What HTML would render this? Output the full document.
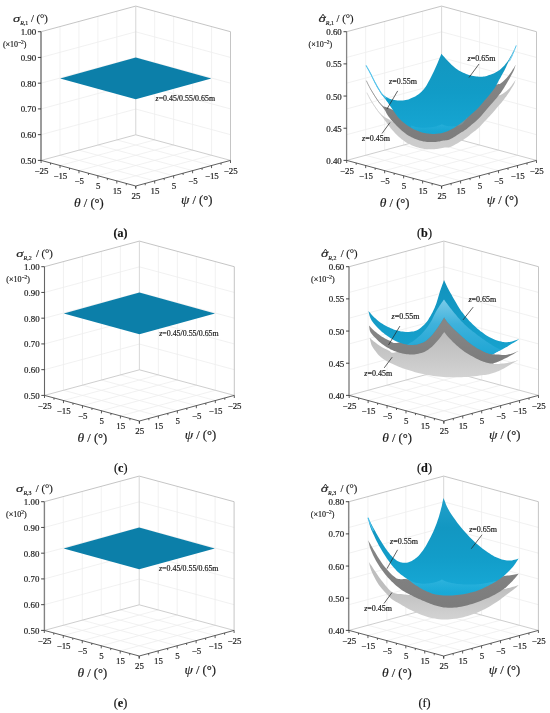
<!DOCTYPE html>
<html><head><meta charset="utf-8"><title>Figure</title><style>html,body{margin:0;padding:0;background:#fff}svg{display:block}svg text{font-family:"Liberation Serif","DejaVu Serif",serif;stroke:#1a1a1a;stroke-width:0.18px}</style></head><body>
<svg width="550" height="713" viewBox="0 0 550 713">
<rect width="550" height="713" fill="#fff"/>
<g id="plot-a">
<line x1="60.03" y1="155.28" x2="60.03" y2="26.58" stroke="#eeeeee" stroke-width="0.8" />
<line x1="154.70" y1="139.92" x2="154.70" y2="11.22" stroke="#eeeeee" stroke-width="0.8" />
<line x1="41.10" y1="134.66" x2="135.75" y2="109.06" stroke="#eeeeee" stroke-width="0.8" />
<line x1="135.75" y1="109.06" x2="230.50" y2="134.66" stroke="#eeeeee" stroke-width="0.8" />
<line x1="60.03" y1="165.52" x2="154.70" y2="139.92" stroke="#eeeeee" stroke-width="0.8" />
<line x1="60.03" y1="155.28" x2="154.70" y2="180.88" stroke="#eeeeee" stroke-width="0.8" />
<line x1="78.96" y1="150.16" x2="78.96" y2="21.46" stroke="#eeeeee" stroke-width="0.8" />
<line x1="173.65" y1="145.04" x2="173.65" y2="16.34" stroke="#eeeeee" stroke-width="0.8" />
<line x1="41.10" y1="108.92" x2="135.75" y2="83.32" stroke="#eeeeee" stroke-width="0.8" />
<line x1="135.75" y1="83.32" x2="230.50" y2="108.92" stroke="#eeeeee" stroke-width="0.8" />
<line x1="78.96" y1="170.64" x2="173.65" y2="145.04" stroke="#eeeeee" stroke-width="0.8" />
<line x1="78.96" y1="150.16" x2="173.65" y2="175.76" stroke="#eeeeee" stroke-width="0.8" />
<line x1="97.89" y1="145.04" x2="97.89" y2="16.34" stroke="#eeeeee" stroke-width="0.8" />
<line x1="192.60" y1="150.16" x2="192.60" y2="21.46" stroke="#eeeeee" stroke-width="0.8" />
<line x1="41.10" y1="83.18" x2="135.75" y2="57.58" stroke="#eeeeee" stroke-width="0.8" />
<line x1="135.75" y1="57.58" x2="230.50" y2="83.18" stroke="#eeeeee" stroke-width="0.8" />
<line x1="97.89" y1="175.76" x2="192.60" y2="150.16" stroke="#eeeeee" stroke-width="0.8" />
<line x1="97.89" y1="145.04" x2="192.60" y2="170.64" stroke="#eeeeee" stroke-width="0.8" />
<line x1="116.82" y1="139.92" x2="116.82" y2="11.22" stroke="#eeeeee" stroke-width="0.8" />
<line x1="211.55" y1="155.28" x2="211.55" y2="26.58" stroke="#eeeeee" stroke-width="0.8" />
<line x1="41.10" y1="57.44" x2="135.75" y2="31.84" stroke="#eeeeee" stroke-width="0.8" />
<line x1="135.75" y1="31.84" x2="230.50" y2="57.44" stroke="#eeeeee" stroke-width="0.8" />
<line x1="116.82" y1="180.88" x2="211.55" y2="155.28" stroke="#eeeeee" stroke-width="0.8" />
<line x1="116.82" y1="139.92" x2="211.55" y2="165.52" stroke="#eeeeee" stroke-width="0.8" />
<line x1="41.10" y1="31.70" x2="135.75" y2="6.10" stroke="#bebebe" stroke-width="0.9" />
<line x1="135.75" y1="6.10" x2="230.50" y2="31.70" stroke="#bebebe" stroke-width="0.9" />
<line x1="135.75" y1="134.80" x2="135.75" y2="6.10" stroke="#d2d2d2" stroke-width="0.9" />
<line x1="230.50" y1="160.40" x2="230.50" y2="31.70" stroke="#bebebe" stroke-width="0.9" />
<line x1="41.10" y1="160.40" x2="135.75" y2="134.80" stroke="#c8c8c8" stroke-width="0.9" />
<line x1="135.75" y1="134.80" x2="230.50" y2="160.40" stroke="#c8c8c8" stroke-width="0.9" />
<polygon points="60.15,78.38 135.75,99.28 211.35,78.38 135.75,57.48" fill="#0c7fa9"/>
<text x="155.55" y="101.28" font-size="7.9" text-anchor="start" font-weight="normal" fill="#1a1a1a" ><tspan font-style="italic">z</tspan>=0.45/0.55/0.65m</text>
<line x1="41.00" y1="160.40" x2="41.00" y2="31.70" stroke="#9c9c9c" stroke-width="2.0" />
<line x1="41.10" y1="160.40" x2="135.75" y2="186.00" stroke="#606060" stroke-width="1.0" />
<line x1="135.75" y1="186.00" x2="230.50" y2="160.40" stroke="#606060" stroke-width="1.0" />
<line x1="37.90" y1="160.40" x2="41.10" y2="160.40" stroke="#333" stroke-width="0.9" />
<text x="36.20" y="163.90" font-size="8.9" text-anchor="end" font-weight="normal" fill="#1a1a1a" >0.50</text>
<line x1="37.90" y1="134.66" x2="41.10" y2="134.66" stroke="#333" stroke-width="0.9" />
<text x="36.20" y="138.16" font-size="8.9" text-anchor="end" font-weight="normal" fill="#1a1a1a" >0.60</text>
<line x1="37.90" y1="108.92" x2="41.10" y2="108.92" stroke="#333" stroke-width="0.9" />
<text x="36.20" y="112.42" font-size="8.9" text-anchor="end" font-weight="normal" fill="#1a1a1a" >0.70</text>
<line x1="37.90" y1="83.18" x2="41.10" y2="83.18" stroke="#333" stroke-width="0.9" />
<text x="36.20" y="86.68" font-size="8.9" text-anchor="end" font-weight="normal" fill="#1a1a1a" >0.80</text>
<line x1="37.90" y1="57.44" x2="41.10" y2="57.44" stroke="#333" stroke-width="0.9" />
<text x="36.20" y="60.94" font-size="8.9" text-anchor="end" font-weight="normal" fill="#1a1a1a" >0.90</text>
<line x1="37.90" y1="31.70" x2="41.10" y2="31.70" stroke="#333" stroke-width="0.9" />
<text x="36.20" y="35.20" font-size="8.9" text-anchor="end" font-weight="normal" fill="#1a1a1a" >1.00</text>
<line x1="41.10" y1="160.40" x2="41.10" y2="163.00" stroke="#333" stroke-width="0.8" />
<text x="41.40" y="173.60" font-size="8.9" text-anchor="middle" font-weight="normal" fill="#1a1a1a" >−25</text>
<line x1="50.57" y1="162.96" x2="50.57" y2="164.76" stroke="#333" stroke-width="0.8" />
<line x1="60.03" y1="165.52" x2="60.03" y2="168.12" stroke="#333" stroke-width="0.8" />
<text x="60.33" y="178.72" font-size="8.9" text-anchor="middle" font-weight="normal" fill="#1a1a1a" >−15</text>
<line x1="69.50" y1="168.08" x2="69.50" y2="169.88" stroke="#333" stroke-width="0.8" />
<line x1="78.96" y1="170.64" x2="78.96" y2="173.24" stroke="#333" stroke-width="0.8" />
<text x="79.26" y="183.84" font-size="8.9" text-anchor="middle" font-weight="normal" fill="#1a1a1a" >−5</text>
<line x1="88.43" y1="173.20" x2="88.43" y2="175.00" stroke="#333" stroke-width="0.8" />
<line x1="97.89" y1="175.76" x2="97.89" y2="178.36" stroke="#333" stroke-width="0.8" />
<text x="98.19" y="188.96" font-size="8.9" text-anchor="middle" font-weight="normal" fill="#1a1a1a" >5</text>
<line x1="107.35" y1="178.32" x2="107.35" y2="180.12" stroke="#333" stroke-width="0.8" />
<line x1="116.82" y1="180.88" x2="116.82" y2="183.48" stroke="#333" stroke-width="0.8" />
<text x="117.12" y="194.08" font-size="8.9" text-anchor="middle" font-weight="normal" fill="#1a1a1a" >15</text>
<line x1="126.28" y1="183.44" x2="126.28" y2="185.24" stroke="#333" stroke-width="0.8" />
<line x1="135.75" y1="186.00" x2="135.75" y2="188.60" stroke="#333" stroke-width="0.8" />
<text x="136.05" y="199.20" font-size="8.9" text-anchor="middle" font-weight="normal" fill="#1a1a1a" >25</text>
<line x1="135.75" y1="186.00" x2="135.75" y2="188.60" stroke="#333" stroke-width="0.8" />
<line x1="145.23" y1="183.44" x2="145.23" y2="185.24" stroke="#333" stroke-width="0.8" />
<line x1="154.70" y1="180.88" x2="154.70" y2="183.48" stroke="#333" stroke-width="0.8" />
<text x="155.00" y="194.08" font-size="8.9" text-anchor="middle" font-weight="normal" fill="#1a1a1a" >15</text>
<line x1="164.18" y1="178.32" x2="164.18" y2="180.12" stroke="#333" stroke-width="0.8" />
<line x1="173.65" y1="175.76" x2="173.65" y2="178.36" stroke="#333" stroke-width="0.8" />
<text x="173.95" y="188.96" font-size="8.9" text-anchor="middle" font-weight="normal" fill="#1a1a1a" >5</text>
<line x1="183.12" y1="173.20" x2="183.12" y2="175.00" stroke="#333" stroke-width="0.8" />
<line x1="192.60" y1="170.64" x2="192.60" y2="173.24" stroke="#333" stroke-width="0.8" />
<text x="192.90" y="183.84" font-size="8.9" text-anchor="middle" font-weight="normal" fill="#1a1a1a" >−5</text>
<line x1="202.08" y1="168.08" x2="202.08" y2="169.88" stroke="#333" stroke-width="0.8" />
<line x1="211.55" y1="165.52" x2="211.55" y2="168.12" stroke="#333" stroke-width="0.8" />
<text x="211.85" y="178.72" font-size="8.9" text-anchor="middle" font-weight="normal" fill="#1a1a1a" >−15</text>
<line x1="221.03" y1="162.96" x2="221.03" y2="164.76" stroke="#333" stroke-width="0.8" />
<line x1="230.50" y1="160.40" x2="230.50" y2="163.00" stroke="#333" stroke-width="0.8" />
<text x="230.80" y="173.60" font-size="8.9" text-anchor="middle" font-weight="normal" fill="#1a1a1a" >−25</text>
<text x="88.93" y="206.70" font-size="12.5" text-anchor="middle" font-weight="normal" fill="#1a1a1a" ><tspan font-style="italic" font-size="13.5">θ</tspan> / (°)</text>
<text x="196.62" y="203.90" font-size="12.5" text-anchor="middle" font-weight="normal" fill="#1a1a1a" ><tspan font-style="italic" font-size="13.5">ψ</tspan> / (°)</text>
<text transform="translate(12.90 22.30) scale(1.3 1)" font-size="11.2" font-style="italic" fill="#2a2a2a" stroke="none">σ</text>
<text x="20.20" y="24.80" font-size="5.9" text-anchor="start" font-weight="normal" fill="#1a1a1a" ><tspan font-style="italic">R</tspan>,1</text>
<text x="31.00" y="22.30" font-size="10.6" text-anchor="start" font-weight="normal" fill="#1a1a1a" >/ (°)</text>
<text x="2.90" y="47.40" font-size="8.0" text-anchor="start" font-weight="normal" fill="#1a1a1a" >(×10<tspan font-size="5.4" dy="-3.1">−2</tspan><tspan dy="3.1">)</tspan></text>
<text x="120.50" y="236.50" font-size="11.9" text-anchor="middle" font-weight="bold" fill="#111" >(a)</text>
</g>
<g id="plot-b">
<line x1="365.68" y1="155.28" x2="365.68" y2="26.58" stroke="#eeeeee" stroke-width="0.8" />
<line x1="460.58" y1="139.92" x2="460.58" y2="11.22" stroke="#eeeeee" stroke-width="0.8" />
<line x1="346.70" y1="134.66" x2="441.60" y2="109.06" stroke="#eeeeee" stroke-width="0.8" />
<line x1="441.60" y1="109.06" x2="536.50" y2="134.66" stroke="#eeeeee" stroke-width="0.8" />
<line x1="365.68" y1="165.52" x2="460.58" y2="139.92" stroke="#eeeeee" stroke-width="0.8" />
<line x1="365.68" y1="155.28" x2="460.58" y2="180.88" stroke="#eeeeee" stroke-width="0.8" />
<line x1="384.66" y1="150.16" x2="384.66" y2="21.46" stroke="#eeeeee" stroke-width="0.8" />
<line x1="479.56" y1="145.04" x2="479.56" y2="16.34" stroke="#eeeeee" stroke-width="0.8" />
<line x1="346.70" y1="108.92" x2="441.60" y2="83.32" stroke="#eeeeee" stroke-width="0.8" />
<line x1="441.60" y1="83.32" x2="536.50" y2="108.92" stroke="#eeeeee" stroke-width="0.8" />
<line x1="384.66" y1="170.64" x2="479.56" y2="145.04" stroke="#eeeeee" stroke-width="0.8" />
<line x1="384.66" y1="150.16" x2="479.56" y2="175.76" stroke="#eeeeee" stroke-width="0.8" />
<line x1="403.64" y1="145.04" x2="403.64" y2="16.34" stroke="#eeeeee" stroke-width="0.8" />
<line x1="498.54" y1="150.16" x2="498.54" y2="21.46" stroke="#eeeeee" stroke-width="0.8" />
<line x1="346.70" y1="83.18" x2="441.60" y2="57.58" stroke="#eeeeee" stroke-width="0.8" />
<line x1="441.60" y1="57.58" x2="536.50" y2="83.18" stroke="#eeeeee" stroke-width="0.8" />
<line x1="403.64" y1="175.76" x2="498.54" y2="150.16" stroke="#eeeeee" stroke-width="0.8" />
<line x1="403.64" y1="145.04" x2="498.54" y2="170.64" stroke="#eeeeee" stroke-width="0.8" />
<line x1="422.62" y1="139.92" x2="422.62" y2="11.22" stroke="#eeeeee" stroke-width="0.8" />
<line x1="517.52" y1="155.28" x2="517.52" y2="26.58" stroke="#eeeeee" stroke-width="0.8" />
<line x1="346.70" y1="57.44" x2="441.60" y2="31.84" stroke="#eeeeee" stroke-width="0.8" />
<line x1="441.60" y1="31.84" x2="536.50" y2="57.44" stroke="#eeeeee" stroke-width="0.8" />
<line x1="422.62" y1="180.88" x2="517.52" y2="155.28" stroke="#eeeeee" stroke-width="0.8" />
<line x1="422.62" y1="139.92" x2="517.52" y2="165.52" stroke="#eeeeee" stroke-width="0.8" />
<line x1="346.70" y1="31.70" x2="441.60" y2="6.10" stroke="#bebebe" stroke-width="0.9" />
<line x1="441.60" y1="6.10" x2="536.50" y2="31.70" stroke="#bebebe" stroke-width="0.9" />
<line x1="441.60" y1="134.80" x2="441.60" y2="6.10" stroke="#d2d2d2" stroke-width="0.9" />
<line x1="536.50" y1="160.40" x2="536.50" y2="31.70" stroke="#bebebe" stroke-width="0.9" />
<line x1="346.70" y1="160.40" x2="441.60" y2="134.80" stroke="#c8c8c8" stroke-width="0.9" />
<line x1="441.60" y1="134.80" x2="536.50" y2="160.40" stroke="#c8c8c8" stroke-width="0.9" />
<defs>
<linearGradient id="gbb" gradientUnits="userSpaceOnUse" x1="0" y1="50" x2="0" y2="135"><stop offset="0" stop-color="#1496bf"/><stop offset="0.5" stop-color="#119cc7"/><stop offset="1" stop-color="#17a7d4"/></linearGradient>
<linearGradient id="glb" gradientUnits="userSpaceOnUse" x1="0" y1="69.7" x2="0" y2="149.3"><stop offset="0" stop-color="#c2c2c2"/><stop offset="1" stop-color="#cdcdcd"/></linearGradient>
<linearGradient id="gdb" gradientUnits="userSpaceOnUse" x1="0" y1="64.5" x2="0" y2="142"><stop offset="0" stop-color="#868686"/><stop offset="1" stop-color="#7c7c7c"/></linearGradient>
</defs>
<polygon points="367.0,93.0 367.8,94.4 368.6,95.9 369.3,97.3 370.1,98.7 370.9,100.1 371.7,101.4 372.5,102.7 373.3,104.0 374.1,105.2 374.9,106.4 375.7,107.6 376.5,108.7 377.3,109.8 378.1,110.9 378.9,111.9 379.7,112.8 380.4,113.6 381.2,114.4 382.1,115.2 383.1,116.0 384.2,116.8 385.4,117.5 386.7,118.2 388.2,119.0 390.0,120.0 392.1,121.2 394.6,122.6 397.2,124.1 400.0,125.6 403.0,127.0 406.1,128.5 409.4,130.0 412.8,131.5 416.3,132.9 420.0,134.0 423.8,135.0 427.8,135.9 431.9,136.6 436.0,137.0 440.0,137.0 444.0,136.6 448.0,135.8 452.0,134.7 456.0,133.1 460.0,131.0 464.1,128.1 468.2,124.6 472.2,120.6 476.2,116.7 480.0,113.0 483.8,109.4 487.5,105.7 491.1,102.2 494.2,99.2 496.7,96.9 498.3,95.6 499.1,95.2 499.5,95.2 499.9,95.2 500.5,95.0 501.4,94.5 502.4,93.9 503.5,93.3 504.6,92.6 505.6,91.8 506.6,90.9 507.6,90.0 508.7,89.0 509.7,87.9 510.7,86.7 511.7,85.4 512.7,84.0 513.8,82.6 514.8,81.1 515.8,79.7 515.8,79.7 515.3,80.8 514.9,81.9 514.5,83.0 514.0,84.2 513.3,85.5 512.4,87.0 511.4,88.6 510.4,90.3 509.3,91.9 508.2,93.5 507.2,95.0 506.2,96.4 505.1,97.8 504.1,99.2 503.1,100.5 502.1,101.7 501.2,102.9 500.2,104.1 499.1,105.3 498.0,106.6 496.7,108.1 495.3,109.8 493.8,111.5 492.3,113.2 490.9,114.8 489.6,116.3 488.3,117.6 487.0,119.0 485.8,120.3 484.5,121.6 483.2,123.0 482.0,124.3 480.7,125.7 479.5,127.0 478.2,128.2 476.9,129.3 475.6,130.4 474.4,131.3 473.1,132.3 471.8,133.3 470.5,134.3 469.3,135.4 468.0,136.4 466.7,137.4 465.5,138.3 464.3,139.1 463.1,139.9 461.8,140.6 460.7,141.3 459.5,142.0 458.4,142.7 457.2,143.4 456.1,144.0 455.1,144.6 454.0,145.2 453.0,145.7 452.0,146.2 451.0,146.7 450.0,147.1 449.0,147.4 448.0,147.6 446.9,147.6 445.9,147.6 444.8,147.6 443.6,147.7 442.3,147.9 441.0,148.2 439.7,148.5 438.3,148.8 437.0,149.0 435.8,149.1 434.5,149.2 433.3,149.3 432.1,149.3 430.9,149.3 429.6,149.3 428.4,149.3 427.1,149.2 425.8,149.1 424.5,149.0 423.2,148.8 422.0,148.6 420.7,148.3 419.5,148.0 418.2,147.6 416.9,147.2 415.5,146.8 414.1,146.3 412.8,145.8 411.5,145.2 410.3,144.6 409.1,144.0 407.9,143.4 406.7,142.7 405.5,141.9 404.2,141.0 402.9,140.1 401.6,139.2 400.3,138.1 399.0,137.0 397.7,135.8 396.4,134.5 395.1,133.2 393.9,131.8 392.7,130.5 391.6,129.2 390.5,127.9 389.5,126.6 388.5,125.3 387.5,124.0 386.5,122.6 385.5,121.3 384.5,119.9 383.6,118.5 382.7,117.3 381.8,116.2 381.0,115.2 380.3,114.3 379.5,113.3 378.7,112.3 377.9,111.2 377.1,110.1 376.3,109.0 375.5,107.9 374.7,106.7 373.9,105.5 373.1,104.3 372.3,103.0 371.5,101.7 370.7,100.4 369.9,99.0 369.2,97.5 368.5,96.0 367.7,94.5 367.0,93.0" fill="url(#glb)" />
<polygon points="366.5,81.0 367.3,82.5 368.0,84.0 368.8,85.4 369.5,86.9 370.3,88.3 371.1,89.7 371.9,91.0 372.7,92.3 373.5,93.6 374.3,94.9 375.1,96.2 375.9,97.4 376.7,98.6 377.5,99.8 378.3,100.9 379.1,102.0 379.9,103.1 380.8,104.1 381.7,105.0 382.6,105.8 383.6,106.4 384.7,106.8 385.8,107.1 386.9,107.4 388.0,107.8 388.9,108.1 389.7,108.4 390.5,108.8 391.4,109.2 392.7,109.8 394.3,110.6 396.1,111.7 398.1,112.8 400.4,113.9 403.0,115.0 405.9,116.1 409.2,117.3 412.7,118.4 416.3,119.3 420.0,120.0 423.8,120.4 427.8,120.7 431.9,120.8 436.0,120.6 440.0,120.0 444.0,119.0 448.0,117.7 452.0,116.0 456.0,114.1 460.0,112.0 464.1,109.6 468.2,106.8 472.3,103.8 476.3,100.8 480.0,98.0 483.6,95.2 487.0,92.4 490.3,89.7 493.1,87.3 495.5,85.5 497.2,84.5 498.3,84.1 499.0,84.0 499.7,83.9 500.5,83.5 501.5,82.8 502.5,82.0 503.6,81.1 504.6,80.1 505.6,79.1 506.6,78.0 507.6,76.8 508.7,75.5 509.7,74.1 510.7,72.7 511.7,71.2 512.7,69.5 513.8,67.9 514.8,66.2 515.8,64.5 515.8,64.5 515.3,65.9 514.9,67.2 514.5,68.5 514.0,70.0 513.3,71.5 512.4,73.2 511.4,75.1 510.4,77.0 509.3,79.0 508.2,80.8 507.2,82.6 506.2,84.3 505.1,86.0 504.1,87.7 503.1,89.3 502.1,90.8 501.2,92.2 500.2,93.5 499.1,94.8 498.0,96.3 496.7,97.9 495.3,99.5 493.8,101.2 492.3,102.9 490.9,104.5 489.6,106.1 488.3,107.6 487.0,109.1 485.8,110.5 484.5,112.0 483.2,113.5 482.0,114.9 480.7,116.4 479.5,117.8 478.2,119.1 476.9,120.3 475.6,121.4 474.4,122.5 473.1,123.5 471.8,124.6 470.5,125.7 469.3,126.8 468.0,127.8 466.7,128.9 465.5,129.8 464.3,130.6 463.1,131.4 461.8,132.1 460.7,132.8 459.5,133.5 458.4,134.2 457.2,135.0 456.1,135.7 455.1,136.4 454.0,137.1 453.0,137.7 452.0,138.3 451.0,138.8 450.0,139.3 449.0,139.7 448.0,140.0 446.9,140.2 445.9,140.3 444.8,140.4 443.6,140.6 442.3,140.8 441.0,141.1 439.7,141.4 438.3,141.6 437.0,141.8 435.8,141.9 434.5,142.0 433.3,142.0 432.1,142.0 430.9,142.0 429.6,142.0 428.4,141.9 427.1,141.9 425.8,141.8 424.5,141.6 423.2,141.4 422.0,141.1 420.7,140.8 419.5,140.4 418.2,140.0 416.9,139.5 415.5,139.0 414.1,138.4 412.8,137.8 411.5,137.2 410.3,136.6 409.1,135.9 407.9,135.2 406.7,134.5 405.5,133.6 404.2,132.6 402.9,131.5 401.6,130.4 400.3,129.2 399.0,128.0 397.7,126.7 396.4,125.4 395.1,124.0 393.8,122.7 392.7,121.5 391.7,120.4 390.8,119.5 390.1,118.5 389.3,117.6 388.5,116.5 387.7,115.2 386.9,113.9 386.1,112.5 385.4,111.1 384.7,110.0 384.1,109.1 383.7,108.5 383.3,107.9 382.8,107.3 382.2,106.5 381.5,105.6 380.7,104.6 379.8,103.5 378.9,102.4 378.1,101.3 377.3,100.1 376.5,98.9 375.7,97.7 374.9,96.5 374.1,95.2 373.3,93.9 372.5,92.6 371.7,91.3 370.9,90.0 370.1,88.6 369.4,87.1 368.6,85.6 367.9,84.1 367.2,82.5 366.5,81.0" fill="url(#gdb)" />
<polygon points="366.2,65.8 367.0,67.2 367.9,68.6 368.7,69.9 369.5,71.4 370.3,72.8 371.1,74.3 371.8,75.9 372.6,77.4 373.3,79.0 374.1,80.5 374.8,81.9 375.6,83.4 376.3,84.7 377.1,86.1 377.9,87.5 378.8,88.9 379.6,90.4 380.6,91.8 381.5,93.1 382.6,94.3 383.8,95.3 385.0,96.2 386.3,97.0 387.7,97.8 389.0,98.4 390.4,98.9 391.8,99.4 393.2,99.8 394.6,100.1 396.0,100.3 397.4,100.5 398.8,100.6 400.2,100.6 401.6,100.6 403.0,100.5 404.4,100.3 405.7,100.1 407.1,99.8 408.5,99.4 410.0,98.8 411.6,98.1 413.4,97.3 415.2,96.4 417.0,95.3 418.6,94.2 420.1,93.0 421.5,91.7 422.9,90.3 424.2,88.8 425.5,87.0 426.8,85.0 428.1,82.6 429.4,80.2 430.7,77.8 431.8,75.5 432.8,73.4 433.8,71.5 434.7,69.6 435.6,67.6 436.5,65.5 437.5,63.3 438.4,60.9 439.4,58.6 440.4,56.2 441.4,53.8 442.8,55.4 444.3,57.1 445.7,58.7 447.2,60.3 448.6,61.8 450.1,63.2 451.5,64.7 453.0,66.0 454.4,67.2 455.9,68.4 457.4,69.4 458.8,70.4 460.3,71.2 461.7,72.0 463.2,72.7 464.7,73.3 466.1,73.9 467.6,74.4 469.0,74.9 470.5,75.3 472.0,75.7 473.5,76.0 474.9,76.2 476.4,76.4 477.7,76.6 479.0,76.7 480.1,76.8 481.3,76.8 482.4,76.7 483.5,76.6 484.6,76.4 485.7,76.2 486.8,75.9 487.9,75.5 489.1,75.1 490.3,74.7 491.6,74.2 492.9,73.7 494.2,73.2 495.5,72.5 496.8,71.8 498.0,71.0 499.3,70.2 500.5,69.2 501.8,68.1 503.1,66.8 504.4,65.4 505.7,63.8 507.0,62.2 508.2,60.5 509.3,58.7 510.4,56.8 511.5,54.9 512.4,53.1 513.3,51.5 514.0,50.1 514.6,49.0 515.1,47.9 515.6,46.9 516.1,45.8 516.1,45.8 515.4,47.4 514.7,49.1 514.0,50.7 513.3,52.3 512.5,54.0 511.7,55.7 510.8,57.4 509.9,59.1 509.0,60.8 508.2,62.5 507.4,64.1 506.7,65.6 506.0,67.2 505.2,68.7 504.4,70.4 503.4,72.2 502.4,74.1 501.3,76.0 500.3,77.9 499.3,79.6 498.5,81.1 497.8,82.6 497.1,83.9 496.4,85.3 495.5,86.8 494.4,88.5 493.0,90.3 491.7,92.1 490.3,93.8 489.1,95.3 488.1,96.5 487.2,97.6 486.4,98.5 485.5,99.5 484.5,100.6 483.4,102.0 482.1,103.4 480.8,105.0 479.5,106.5 478.2,107.9 476.9,109.2 475.6,110.4 474.4,111.5 473.1,112.7 471.8,113.8 470.5,115.0 469.3,116.1 468.0,117.3 466.7,118.4 465.5,119.5 464.3,120.5 463.1,121.5 461.8,122.4 460.7,123.3 459.5,124.2 458.4,125.0 457.2,125.8 456.1,126.6 455.1,127.3 454.0,127.9 453.0,128.5 452.0,129.0 451.0,129.5 450.0,129.9 449.0,130.4 448.0,130.9 446.9,131.4 445.9,131.8 444.8,132.2 443.6,132.6 442.3,132.9 441.0,133.2 439.7,133.4 438.3,133.6 437.0,133.7 435.8,133.8 434.5,133.9 433.3,133.9 432.1,133.9 430.9,133.8 429.6,133.7 428.4,133.6 427.1,133.4 425.8,133.2 424.5,133.0 423.2,132.7 422.0,132.4 420.7,132.0 419.5,131.6 418.2,131.1 416.9,130.6 415.5,130.0 414.1,129.4 412.8,128.7 411.5,128.0 410.3,127.3 409.1,126.6 407.9,125.8 406.7,125.0 405.5,124.1 404.2,123.1 402.9,122.0 401.5,120.8 400.2,119.6 399.0,118.3 397.8,116.9 396.6,115.3 395.5,113.7 394.5,112.3 393.6,111.0 392.9,110.0 392.4,109.3 391.9,108.6 391.5,108.0 391.0,107.3 390.5,106.5 390.0,105.7 389.5,105.0 388.9,104.2 388.4,103.4 387.9,102.6 387.3,101.9 386.8,101.2 386.2,100.4 385.6,99.6 385.0,98.8 384.3,98.0 383.7,97.2 383.0,96.3 382.2,95.2 381.3,93.9 380.4,92.4 379.4,90.9 378.5,89.3 377.6,87.8 376.8,86.4 376.1,85.0 375.3,83.6 374.6,82.2 373.9,80.7 373.1,79.2 372.4,77.6 371.6,76.1 370.9,74.5 370.1,73.0 369.3,71.5 368.5,70.1 367.8,68.7 367.0,67.2 366.2,65.8" fill="url(#gbb)" />
<linearGradient id="grb" gradientUnits="userSpaceOnUse" x1="0" y1="123" x2="0" y2="132"><stop offset="0" stop-color="#5fd0f4" stop-opacity="0.25"/><stop offset="1" stop-color="#5fd0f4" stop-opacity="0"/></linearGradient>
<polygon points="411.0,125.6 412.6,126.0 414.2,126.5 415.7,126.9 417.3,127.3 419.0,127.6 420.8,127.7 422.6,127.8 424.4,127.8 426.2,127.7 428.0,127.6 429.7,127.5 431.4,127.2 433.0,127.0 434.5,126.7 436.0,126.4 437.3,126.0 438.5,125.6 439.7,125.2 440.8,124.7 442.0,124.3 443.0,124.7 443.9,125.1 444.8,125.4 445.8,125.8 447.0,126.0 448.4,126.2 450.0,126.3 451.7,126.4 453.4,126.3 455.0,126.2 456.5,126.0 457.9,125.8 459.4,125.5 460.7,125.0 462.0,124.2 463.2,123.0 464.3,121.5 465.4,119.9 466.4,118.1 467.5,116.5 466.7,118.4 465.5,119.5 464.3,120.5 463.1,121.5 461.8,122.4 460.7,123.3 459.5,124.2 458.4,125.0 457.2,125.8 456.1,126.6 455.1,127.3 454.0,127.9 453.0,128.5 452.0,129.0 451.0,129.5 450.0,129.9 449.0,130.4 448.0,130.9 446.9,131.4 445.9,131.8 444.8,132.2 443.6,132.6 442.3,132.9 441.0,133.2 439.7,133.4 438.3,133.6 437.0,133.7 435.8,133.8 434.5,133.9 433.3,133.9 432.1,133.9 430.9,133.8 429.6,133.7 428.4,133.6 427.1,133.4 425.8,133.2 424.5,133.0 423.2,132.7 422.0,132.4 420.7,132.0 419.5,131.6 418.2,131.1 416.9,130.6 415.5,130.0 414.1,129.4 412.8,128.7 411.5,128.0" fill="url(#grb)" />
<polyline points="366.2,65.8 367.2,67.6 368.2,69.3 369.2,71.1 370.2,72.9 371.2,74.8 372.1,76.8 373.1,78.7 374.0,80.6 374.9,82.4 375.9,84.1 376.8,85.9 377.8,87.6 378.9,89.4 380.1,91.3 381.2,93.1 382.3,94.6 383.3,95.7 384.2,96.5 385.1,97.2 386.0,98.0" fill="none" stroke="#55c4ec" stroke-width="1.1" stroke-linecap="round"/>
<polyline points="516.1,45.8 515.7,47.0 515.2,48.1 514.8,49.3 514.3,50.5 513.8,51.8 513.2,53.2 512.6,54.6 512.0,56.0 511.4,57.3 510.8,58.5 510.1,59.8 509.5,61.0" fill="none" stroke="#55c4ec" stroke-width="1.0" stroke-linecap="round"/>
<polyline points="366.5,81.0 367.4,82.9 368.3,84.8 369.3,86.6 370.2,88.4 371.2,90.1 372.2,91.8 373.2,93.4 374.2,95.0 375.2,96.6 376.2,98.2 377.2,99.7 378.2,101.1 379.2,102.4 380.3,103.7 381.3,104.9 382.4,106.1" fill="none" stroke="#8a8a8a" stroke-width="0.7" stroke-linecap="round"/>
<polyline points="367.0,93.0 367.9,94.8 368.9,96.7 369.8,98.5 370.8,100.2 371.8,101.9 372.8,103.5 373.8,105.0 374.8,106.5 375.8,108.0 376.8,109.4 377.8,110.8 378.8,112.1 379.8,113.3 380.8,114.3 381.9,115.4 382.9,116.4" fill="none" stroke="#cccccc" stroke-width="0.7" stroke-linecap="round"/>
<line x1="479.00" y1="64.00" x2="469.00" y2="77.50" stroke="#222" stroke-width="0.7" />
<text x="467.50" y="61.30" font-size="8.0" text-anchor="start" font-weight="normal" fill="#1a1a1a" ><tspan font-style="italic">z</tspan>=0.65m</text>
<line x1="397.70" y1="90.90" x2="386.90" y2="109.10" stroke="#222" stroke-width="0.7" />
<text x="389.00" y="84.30" font-size="8.0" text-anchor="start" font-weight="normal" fill="#1a1a1a" ><tspan font-style="italic">z</tspan>=0.55m</text>
<line x1="390.00" y1="122.50" x2="382.00" y2="133.50" stroke="#222" stroke-width="0.7" />
<text x="362.00" y="141.30" font-size="8.0" text-anchor="start" font-weight="normal" fill="#1a1a1a" ><tspan font-style="italic">z</tspan>=0.45m</text>
<line x1="346.60" y1="160.40" x2="346.60" y2="31.70" stroke="#858585" stroke-width="1.3" />
<line x1="346.70" y1="160.40" x2="441.60" y2="186.00" stroke="#606060" stroke-width="1.0" />
<line x1="441.60" y1="186.00" x2="536.50" y2="160.40" stroke="#606060" stroke-width="1.0" />
<line x1="343.50" y1="160.40" x2="346.70" y2="160.40" stroke="#333" stroke-width="0.9" />
<text x="341.80" y="163.90" font-size="8.9" text-anchor="end" font-weight="normal" fill="#1a1a1a" >0.40</text>
<line x1="343.50" y1="128.22" x2="346.70" y2="128.22" stroke="#333" stroke-width="0.9" />
<text x="341.80" y="131.72" font-size="8.9" text-anchor="end" font-weight="normal" fill="#1a1a1a" >0.45</text>
<line x1="343.50" y1="96.05" x2="346.70" y2="96.05" stroke="#333" stroke-width="0.9" />
<text x="341.80" y="99.55" font-size="8.9" text-anchor="end" font-weight="normal" fill="#1a1a1a" >0.50</text>
<line x1="343.50" y1="63.88" x2="346.70" y2="63.88" stroke="#333" stroke-width="0.9" />
<text x="341.80" y="67.38" font-size="8.9" text-anchor="end" font-weight="normal" fill="#1a1a1a" >0.55</text>
<line x1="343.50" y1="31.70" x2="346.70" y2="31.70" stroke="#333" stroke-width="0.9" />
<text x="341.80" y="35.20" font-size="8.9" text-anchor="end" font-weight="normal" fill="#1a1a1a" >0.60</text>
<line x1="346.70" y1="160.40" x2="346.70" y2="163.00" stroke="#333" stroke-width="0.8" />
<text x="347.00" y="173.60" font-size="8.9" text-anchor="middle" font-weight="normal" fill="#1a1a1a" >−25</text>
<line x1="356.19" y1="162.96" x2="356.19" y2="164.76" stroke="#333" stroke-width="0.8" />
<line x1="365.68" y1="165.52" x2="365.68" y2="168.12" stroke="#333" stroke-width="0.8" />
<text x="365.98" y="178.72" font-size="8.9" text-anchor="middle" font-weight="normal" fill="#1a1a1a" >−15</text>
<line x1="375.17" y1="168.08" x2="375.17" y2="169.88" stroke="#333" stroke-width="0.8" />
<line x1="384.66" y1="170.64" x2="384.66" y2="173.24" stroke="#333" stroke-width="0.8" />
<text x="384.96" y="183.84" font-size="8.9" text-anchor="middle" font-weight="normal" fill="#1a1a1a" >−5</text>
<line x1="394.15" y1="173.20" x2="394.15" y2="175.00" stroke="#333" stroke-width="0.8" />
<line x1="403.64" y1="175.76" x2="403.64" y2="178.36" stroke="#333" stroke-width="0.8" />
<text x="403.94" y="188.96" font-size="8.9" text-anchor="middle" font-weight="normal" fill="#1a1a1a" >5</text>
<line x1="413.13" y1="178.32" x2="413.13" y2="180.12" stroke="#333" stroke-width="0.8" />
<line x1="422.62" y1="180.88" x2="422.62" y2="183.48" stroke="#333" stroke-width="0.8" />
<text x="422.92" y="194.08" font-size="8.9" text-anchor="middle" font-weight="normal" fill="#1a1a1a" >15</text>
<line x1="432.11" y1="183.44" x2="432.11" y2="185.24" stroke="#333" stroke-width="0.8" />
<line x1="441.60" y1="186.00" x2="441.60" y2="188.60" stroke="#333" stroke-width="0.8" />
<text x="441.90" y="199.20" font-size="8.9" text-anchor="middle" font-weight="normal" fill="#1a1a1a" >25</text>
<line x1="441.60" y1="186.00" x2="441.60" y2="188.60" stroke="#333" stroke-width="0.8" />
<line x1="451.09" y1="183.44" x2="451.09" y2="185.24" stroke="#333" stroke-width="0.8" />
<line x1="460.58" y1="180.88" x2="460.58" y2="183.48" stroke="#333" stroke-width="0.8" />
<text x="460.88" y="194.08" font-size="8.9" text-anchor="middle" font-weight="normal" fill="#1a1a1a" >15</text>
<line x1="470.07" y1="178.32" x2="470.07" y2="180.12" stroke="#333" stroke-width="0.8" />
<line x1="479.56" y1="175.76" x2="479.56" y2="178.36" stroke="#333" stroke-width="0.8" />
<text x="479.86" y="188.96" font-size="8.9" text-anchor="middle" font-weight="normal" fill="#1a1a1a" >5</text>
<line x1="489.05" y1="173.20" x2="489.05" y2="175.00" stroke="#333" stroke-width="0.8" />
<line x1="498.54" y1="170.64" x2="498.54" y2="173.24" stroke="#333" stroke-width="0.8" />
<text x="498.84" y="183.84" font-size="8.9" text-anchor="middle" font-weight="normal" fill="#1a1a1a" >−5</text>
<line x1="508.03" y1="168.08" x2="508.03" y2="169.88" stroke="#333" stroke-width="0.8" />
<line x1="517.52" y1="165.52" x2="517.52" y2="168.12" stroke="#333" stroke-width="0.8" />
<text x="517.82" y="178.72" font-size="8.9" text-anchor="middle" font-weight="normal" fill="#1a1a1a" >−15</text>
<line x1="527.01" y1="162.96" x2="527.01" y2="164.76" stroke="#333" stroke-width="0.8" />
<line x1="536.50" y1="160.40" x2="536.50" y2="163.00" stroke="#333" stroke-width="0.8" />
<text x="536.80" y="173.60" font-size="8.9" text-anchor="middle" font-weight="normal" fill="#1a1a1a" >−25</text>
<text x="394.65" y="206.70" font-size="12.5" text-anchor="middle" font-weight="normal" fill="#1a1a1a" ><tspan font-style="italic" font-size="13.5">θ</tspan> / (°)</text>
<text x="502.55" y="203.90" font-size="12.5" text-anchor="middle" font-weight="normal" fill="#1a1a1a" ><tspan font-style="italic" font-size="13.5">ψ</tspan> / (°)</text>
<text transform="translate(318.50 22.30) scale(1.3 1)" font-size="11.2" font-style="italic" fill="#2a2a2a" stroke="none">σ</text>
<text transform="translate(323.10 19.70) scale(1.5 0.85)" font-size="8.5" text-anchor="middle" fill="#2a2a2a" stroke="none">^</text>
<text x="325.80" y="24.80" font-size="5.9" text-anchor="start" font-weight="normal" fill="#1a1a1a" ><tspan font-style="italic">R</tspan>,1</text>
<text x="336.60" y="22.30" font-size="10.6" text-anchor="start" font-weight="normal" fill="#1a1a1a" >/ (°)</text>
<text x="308.50" y="47.40" font-size="8.0" text-anchor="start" font-weight="normal" fill="#1a1a1a" >(×10<tspan font-size="5.4" dy="-3.1">−2</tspan><tspan dy="3.1">)</tspan></text>
<text x="424.50" y="237.00" font-size="12.2" text-anchor="middle" font-weight="normal" fill="#111" >(<tspan font-weight="bold">b</tspan>)</text>
</g>
<g id="plot-c">
<line x1="63.48" y1="390.28" x2="63.48" y2="261.58" stroke="#eeeeee" stroke-width="0.8" />
<line x1="158.38" y1="374.92" x2="158.38" y2="246.22" stroke="#eeeeee" stroke-width="0.8" />
<line x1="44.50" y1="369.66" x2="139.40" y2="344.06" stroke="#eeeeee" stroke-width="0.8" />
<line x1="139.40" y1="344.06" x2="234.30" y2="369.66" stroke="#eeeeee" stroke-width="0.8" />
<line x1="63.48" y1="400.52" x2="158.38" y2="374.92" stroke="#eeeeee" stroke-width="0.8" />
<line x1="63.48" y1="390.28" x2="158.38" y2="415.88" stroke="#eeeeee" stroke-width="0.8" />
<line x1="82.46" y1="385.16" x2="82.46" y2="256.46" stroke="#eeeeee" stroke-width="0.8" />
<line x1="177.36" y1="380.04" x2="177.36" y2="251.34" stroke="#eeeeee" stroke-width="0.8" />
<line x1="44.50" y1="343.92" x2="139.40" y2="318.32" stroke="#eeeeee" stroke-width="0.8" />
<line x1="139.40" y1="318.32" x2="234.30" y2="343.92" stroke="#eeeeee" stroke-width="0.8" />
<line x1="82.46" y1="405.64" x2="177.36" y2="380.04" stroke="#eeeeee" stroke-width="0.8" />
<line x1="82.46" y1="385.16" x2="177.36" y2="410.76" stroke="#eeeeee" stroke-width="0.8" />
<line x1="101.44" y1="380.04" x2="101.44" y2="251.34" stroke="#eeeeee" stroke-width="0.8" />
<line x1="196.34" y1="385.16" x2="196.34" y2="256.46" stroke="#eeeeee" stroke-width="0.8" />
<line x1="44.50" y1="318.18" x2="139.40" y2="292.58" stroke="#eeeeee" stroke-width="0.8" />
<line x1="139.40" y1="292.58" x2="234.30" y2="318.18" stroke="#eeeeee" stroke-width="0.8" />
<line x1="101.44" y1="410.76" x2="196.34" y2="385.16" stroke="#eeeeee" stroke-width="0.8" />
<line x1="101.44" y1="380.04" x2="196.34" y2="405.64" stroke="#eeeeee" stroke-width="0.8" />
<line x1="120.42" y1="374.92" x2="120.42" y2="246.22" stroke="#eeeeee" stroke-width="0.8" />
<line x1="215.32" y1="390.28" x2="215.32" y2="261.58" stroke="#eeeeee" stroke-width="0.8" />
<line x1="44.50" y1="292.44" x2="139.40" y2="266.84" stroke="#eeeeee" stroke-width="0.8" />
<line x1="139.40" y1="266.84" x2="234.30" y2="292.44" stroke="#eeeeee" stroke-width="0.8" />
<line x1="120.42" y1="415.88" x2="215.32" y2="390.28" stroke="#eeeeee" stroke-width="0.8" />
<line x1="120.42" y1="374.92" x2="215.32" y2="400.52" stroke="#eeeeee" stroke-width="0.8" />
<line x1="44.50" y1="266.70" x2="139.40" y2="241.10" stroke="#bebebe" stroke-width="0.9" />
<line x1="139.40" y1="241.10" x2="234.30" y2="266.70" stroke="#bebebe" stroke-width="0.9" />
<line x1="139.40" y1="369.80" x2="139.40" y2="241.10" stroke="#d2d2d2" stroke-width="0.9" />
<line x1="234.30" y1="395.40" x2="234.30" y2="266.70" stroke="#bebebe" stroke-width="0.9" />
<line x1="44.50" y1="395.40" x2="139.40" y2="369.80" stroke="#c8c8c8" stroke-width="0.9" />
<line x1="139.40" y1="369.80" x2="234.30" y2="395.40" stroke="#c8c8c8" stroke-width="0.9" />
<polygon points="63.80,313.38 139.40,334.28 215.00,313.38 139.40,292.48" fill="#0c7fa9"/>
<text x="159.20" y="336.28" font-size="7.9" text-anchor="start" font-weight="normal" fill="#1a1a1a" ><tspan font-style="italic">z</tspan>=0.45/0.55/0.65m</text>
<line x1="44.50" y1="395.40" x2="44.50" y2="266.70" stroke="#666" stroke-width="1.1" />
<line x1="44.50" y1="395.40" x2="139.40" y2="421.00" stroke="#606060" stroke-width="1.0" />
<line x1="139.40" y1="421.00" x2="234.30" y2="395.40" stroke="#606060" stroke-width="1.0" />
<line x1="41.30" y1="395.40" x2="44.50" y2="395.40" stroke="#333" stroke-width="0.9" />
<text x="39.60" y="398.90" font-size="8.9" text-anchor="end" font-weight="normal" fill="#1a1a1a" >0.50</text>
<line x1="41.30" y1="369.66" x2="44.50" y2="369.66" stroke="#333" stroke-width="0.9" />
<text x="39.60" y="373.16" font-size="8.9" text-anchor="end" font-weight="normal" fill="#1a1a1a" >0.60</text>
<line x1="41.30" y1="343.92" x2="44.50" y2="343.92" stroke="#333" stroke-width="0.9" />
<text x="39.60" y="347.42" font-size="8.9" text-anchor="end" font-weight="normal" fill="#1a1a1a" >0.70</text>
<line x1="41.30" y1="318.18" x2="44.50" y2="318.18" stroke="#333" stroke-width="0.9" />
<text x="39.60" y="321.68" font-size="8.9" text-anchor="end" font-weight="normal" fill="#1a1a1a" >0.80</text>
<line x1="41.30" y1="292.44" x2="44.50" y2="292.44" stroke="#333" stroke-width="0.9" />
<text x="39.60" y="295.94" font-size="8.9" text-anchor="end" font-weight="normal" fill="#1a1a1a" >0.90</text>
<line x1="41.30" y1="266.70" x2="44.50" y2="266.70" stroke="#333" stroke-width="0.9" />
<text x="39.60" y="270.20" font-size="8.9" text-anchor="end" font-weight="normal" fill="#1a1a1a" >1.00</text>
<line x1="44.50" y1="395.40" x2="44.50" y2="398.00" stroke="#333" stroke-width="0.8" />
<text x="44.80" y="408.60" font-size="8.9" text-anchor="middle" font-weight="normal" fill="#1a1a1a" >−25</text>
<line x1="53.99" y1="397.96" x2="53.99" y2="399.76" stroke="#333" stroke-width="0.8" />
<line x1="63.48" y1="400.52" x2="63.48" y2="403.12" stroke="#333" stroke-width="0.8" />
<text x="63.78" y="413.72" font-size="8.9" text-anchor="middle" font-weight="normal" fill="#1a1a1a" >−15</text>
<line x1="72.97" y1="403.08" x2="72.97" y2="404.88" stroke="#333" stroke-width="0.8" />
<line x1="82.46" y1="405.64" x2="82.46" y2="408.24" stroke="#333" stroke-width="0.8" />
<text x="82.76" y="418.84" font-size="8.9" text-anchor="middle" font-weight="normal" fill="#1a1a1a" >−5</text>
<line x1="91.95" y1="408.20" x2="91.95" y2="410.00" stroke="#333" stroke-width="0.8" />
<line x1="101.44" y1="410.76" x2="101.44" y2="413.36" stroke="#333" stroke-width="0.8" />
<text x="101.74" y="423.96" font-size="8.9" text-anchor="middle" font-weight="normal" fill="#1a1a1a" >5</text>
<line x1="110.93" y1="413.32" x2="110.93" y2="415.12" stroke="#333" stroke-width="0.8" />
<line x1="120.42" y1="415.88" x2="120.42" y2="418.48" stroke="#333" stroke-width="0.8" />
<text x="120.72" y="429.08" font-size="8.9" text-anchor="middle" font-weight="normal" fill="#1a1a1a" >15</text>
<line x1="129.91" y1="418.44" x2="129.91" y2="420.24" stroke="#333" stroke-width="0.8" />
<line x1="139.40" y1="421.00" x2="139.40" y2="423.60" stroke="#333" stroke-width="0.8" />
<text x="139.70" y="434.20" font-size="8.9" text-anchor="middle" font-weight="normal" fill="#1a1a1a" >25</text>
<line x1="139.40" y1="421.00" x2="139.40" y2="423.60" stroke="#333" stroke-width="0.8" />
<line x1="148.89" y1="418.44" x2="148.89" y2="420.24" stroke="#333" stroke-width="0.8" />
<line x1="158.38" y1="415.88" x2="158.38" y2="418.48" stroke="#333" stroke-width="0.8" />
<text x="158.68" y="429.08" font-size="8.9" text-anchor="middle" font-weight="normal" fill="#1a1a1a" >15</text>
<line x1="167.87" y1="413.32" x2="167.87" y2="415.12" stroke="#333" stroke-width="0.8" />
<line x1="177.36" y1="410.76" x2="177.36" y2="413.36" stroke="#333" stroke-width="0.8" />
<text x="177.66" y="423.96" font-size="8.9" text-anchor="middle" font-weight="normal" fill="#1a1a1a" >5</text>
<line x1="186.85" y1="408.20" x2="186.85" y2="410.00" stroke="#333" stroke-width="0.8" />
<line x1="196.34" y1="405.64" x2="196.34" y2="408.24" stroke="#333" stroke-width="0.8" />
<text x="196.64" y="418.84" font-size="8.9" text-anchor="middle" font-weight="normal" fill="#1a1a1a" >−5</text>
<line x1="205.83" y1="403.08" x2="205.83" y2="404.88" stroke="#333" stroke-width="0.8" />
<line x1="215.32" y1="400.52" x2="215.32" y2="403.12" stroke="#333" stroke-width="0.8" />
<text x="215.62" y="413.72" font-size="8.9" text-anchor="middle" font-weight="normal" fill="#1a1a1a" >−15</text>
<line x1="224.81" y1="397.96" x2="224.81" y2="399.76" stroke="#333" stroke-width="0.8" />
<line x1="234.30" y1="395.40" x2="234.30" y2="398.00" stroke="#333" stroke-width="0.8" />
<text x="234.60" y="408.60" font-size="8.9" text-anchor="middle" font-weight="normal" fill="#1a1a1a" >−25</text>
<text x="92.45" y="441.70" font-size="12.5" text-anchor="middle" font-weight="normal" fill="#1a1a1a" ><tspan font-style="italic" font-size="13.5">θ</tspan> / (°)</text>
<text x="200.35" y="438.90" font-size="12.5" text-anchor="middle" font-weight="normal" fill="#1a1a1a" ><tspan font-style="italic" font-size="13.5">ψ</tspan> / (°)</text>
<text transform="translate(16.30 257.30) scale(1.3 1)" font-size="11.2" font-style="italic" fill="#2a2a2a" stroke="none">σ</text>
<text x="23.60" y="259.80" font-size="5.9" text-anchor="start" font-weight="normal" fill="#1a1a1a" ><tspan font-style="italic">R</tspan>,2</text>
<text x="36.00" y="257.30" font-size="10.6" text-anchor="start" font-weight="normal" fill="#1a1a1a" >/ (°)</text>
<text x="6.30" y="282.40" font-size="8.0" text-anchor="start" font-weight="normal" fill="#1a1a1a" >(×10<tspan font-size="5.4" dy="-3.1">−2</tspan><tspan dy="3.1">)</tspan></text>
<text x="120.70" y="472.40" font-size="12.2" text-anchor="middle" font-weight="normal" fill="#111" >(<tspan font-weight="bold">c</tspan>)</text>
</g>
<g id="plot-d">
<line x1="368.13" y1="390.28" x2="368.13" y2="261.58" stroke="#eeeeee" stroke-width="0.8" />
<line x1="462.78" y1="374.92" x2="462.78" y2="246.22" stroke="#eeeeee" stroke-width="0.8" />
<line x1="349.20" y1="369.66" x2="443.85" y2="344.06" stroke="#eeeeee" stroke-width="0.8" />
<line x1="443.85" y1="344.06" x2="538.50" y2="369.66" stroke="#eeeeee" stroke-width="0.8" />
<line x1="368.13" y1="400.52" x2="462.78" y2="374.92" stroke="#eeeeee" stroke-width="0.8" />
<line x1="368.13" y1="390.28" x2="462.78" y2="415.88" stroke="#eeeeee" stroke-width="0.8" />
<line x1="387.06" y1="385.16" x2="387.06" y2="256.46" stroke="#eeeeee" stroke-width="0.8" />
<line x1="481.71" y1="380.04" x2="481.71" y2="251.34" stroke="#eeeeee" stroke-width="0.8" />
<line x1="349.20" y1="343.92" x2="443.85" y2="318.32" stroke="#eeeeee" stroke-width="0.8" />
<line x1="443.85" y1="318.32" x2="538.50" y2="343.92" stroke="#eeeeee" stroke-width="0.8" />
<line x1="387.06" y1="405.64" x2="481.71" y2="380.04" stroke="#eeeeee" stroke-width="0.8" />
<line x1="387.06" y1="385.16" x2="481.71" y2="410.76" stroke="#eeeeee" stroke-width="0.8" />
<line x1="405.99" y1="380.04" x2="405.99" y2="251.34" stroke="#eeeeee" stroke-width="0.8" />
<line x1="500.64" y1="385.16" x2="500.64" y2="256.46" stroke="#eeeeee" stroke-width="0.8" />
<line x1="349.20" y1="318.18" x2="443.85" y2="292.58" stroke="#eeeeee" stroke-width="0.8" />
<line x1="443.85" y1="292.58" x2="538.50" y2="318.18" stroke="#eeeeee" stroke-width="0.8" />
<line x1="405.99" y1="410.76" x2="500.64" y2="385.16" stroke="#eeeeee" stroke-width="0.8" />
<line x1="405.99" y1="380.04" x2="500.64" y2="405.64" stroke="#eeeeee" stroke-width="0.8" />
<line x1="424.92" y1="374.92" x2="424.92" y2="246.22" stroke="#eeeeee" stroke-width="0.8" />
<line x1="519.57" y1="390.28" x2="519.57" y2="261.58" stroke="#eeeeee" stroke-width="0.8" />
<line x1="349.20" y1="292.44" x2="443.85" y2="266.84" stroke="#eeeeee" stroke-width="0.8" />
<line x1="443.85" y1="266.84" x2="538.50" y2="292.44" stroke="#eeeeee" stroke-width="0.8" />
<line x1="424.92" y1="415.88" x2="519.57" y2="390.28" stroke="#eeeeee" stroke-width="0.8" />
<line x1="424.92" y1="374.92" x2="519.57" y2="400.52" stroke="#eeeeee" stroke-width="0.8" />
<line x1="349.20" y1="266.70" x2="443.85" y2="241.10" stroke="#bebebe" stroke-width="0.9" />
<line x1="443.85" y1="241.10" x2="538.50" y2="266.70" stroke="#bebebe" stroke-width="0.9" />
<line x1="443.85" y1="369.80" x2="443.85" y2="241.10" stroke="#d2d2d2" stroke-width="0.9" />
<line x1="538.50" y1="395.40" x2="538.50" y2="266.70" stroke="#bebebe" stroke-width="0.9" />
<line x1="349.20" y1="395.40" x2="443.85" y2="369.80" stroke="#c8c8c8" stroke-width="0.9" />
<line x1="443.85" y1="369.80" x2="538.50" y2="395.40" stroke="#c8c8c8" stroke-width="0.9" />
<defs>
<linearGradient id="gbd" gradientUnits="userSpaceOnUse" x1="0" y1="280" x2="0" y2="355"><stop offset="0" stop-color="#1192bd"/><stop offset="1" stop-color="#17a3cf"/></linearGradient>
<linearGradient id="gld" gradientUnits="userSpaceOnUse" x1="0" y1="327.7" x2="0" y2="377.3"><stop offset="0" stop-color="#b8b8b8"/><stop offset="1" stop-color="#d3d3d3"/></linearGradient>
<linearGradient id="gdd" gradientUnits="userSpaceOnUse" x1="0" y1="325.4" x2="0" y2="363.7"><stop offset="0" stop-color="#868686"/><stop offset="1" stop-color="#7c7c7c"/></linearGradient>
<linearGradient id="gbld" gradientUnits="userSpaceOnUse" x1="0" y1="299" x2="0" y2="354"><stop offset="0" stop-color="#7ccbe8"/><stop offset="0.45" stop-color="#3fb2dc"/><stop offset="1" stop-color="#1ea6d4"/></linearGradient>
</defs>
<polygon points="369.6,337.7 370.6,338.6 371.5,339.4 372.5,340.3 373.5,341.2 374.7,342.1 376.0,343.1 377.5,344.2 379.0,345.2 380.5,346.3 382.0,347.2 383.5,348.0 385.1,348.8 386.6,349.6 388.0,350.2 389.3,350.8 390.2,351.4 390.7,352.0 391.2,352.5 392.0,352.8 393.6,352.7 396.0,352.3 399.1,351.5 402.6,350.6 406.3,349.4 410.0,348.0 413.9,346.4 418.0,344.5 422.3,342.5 426.3,340.3 430.0,338.0 433.2,335.6 436.0,333.0 438.7,330.3 441.3,327.6 444.0,325.0 449.3,330.2 454.6,335.5 459.9,340.8 465.0,345.7 470.0,350.0 474.7,353.5 479.2,356.3 483.6,358.8 488.0,361.1 492.4,363.7 493.3,363.8 494.2,363.9 495.1,364.0 496.1,364.0 497.3,364.0 498.7,363.9 500.3,363.8 502.1,363.6 503.8,363.4 505.5,363.2 507.2,362.9 508.9,362.6 510.6,362.2 512.2,361.8 513.6,361.5 514.8,361.2 515.8,360.9 516.7,360.5 517.6,360.2 518.5,359.9 518.5,359.9 517.6,360.5 516.7,361.0 515.8,361.5 514.8,362.1 513.6,362.8 512.2,363.6 510.6,364.6 508.9,365.6 507.2,366.6 505.5,367.5 503.9,368.4 502.2,369.3 500.6,370.1 498.9,370.9 497.3,371.6 495.6,372.2 494.0,372.8 492.3,373.3 490.7,373.8 489.1,374.2 487.7,374.5 486.4,374.7 485.1,374.9 483.6,375.1 481.8,375.3 479.6,375.6 477.1,375.9 474.4,376.2 471.7,376.5 469.1,376.7 466.6,376.9 464.0,377.0 461.5,377.2 458.9,377.3 456.4,377.3 453.8,377.3 451.3,377.3 448.7,377.2 446.2,377.2 443.6,377.0 441.1,376.8 438.5,376.5 436.0,376.2 433.4,375.9 430.9,375.5 428.3,375.1 425.6,374.5 423.0,374.0 420.5,373.4 418.2,372.9 416.1,372.4 414.3,371.9 412.5,371.3 410.8,370.8 409.1,370.3 407.4,369.8 405.8,369.3 404.1,368.7 402.5,368.2 400.9,367.6 399.3,366.9 397.6,366.3 396.0,365.5 394.3,364.8 392.7,364.0 391.0,363.2 389.3,362.4 387.6,361.5 386.0,360.7 384.5,359.8 383.2,358.9 382.0,358.0 380.9,357.2 379.9,356.3 379.0,355.5 378.3,354.8 377.8,354.2 377.3,353.6 376.8,352.9 376.2,352.0 375.4,350.9 374.4,349.8 373.5,348.5 372.6,347.1 371.8,345.7 371.2,344.2 370.8,342.6 370.4,341.0 370.0,339.3 369.6,337.7" fill="url(#gld)" />
<polygon points="368.9,325.4 370.0,326.6 371.1,327.7 372.3,328.9 373.4,330.1 374.7,331.2 376.1,332.3 377.5,333.5 379.0,334.6 380.5,335.7 382.0,336.7 383.5,337.6 385.0,338.4 386.5,339.2 387.9,339.9 389.3,340.6 390.5,341.3 391.5,342.0 392.6,342.6 393.7,343.0 395.1,343.1 396.7,342.9 398.5,342.6 400.5,342.0 402.6,341.2 405.0,340.0 407.5,338.6 410.2,337.0 413.1,335.1 416.3,332.8 420.0,330.0 424.2,326.6 429.0,322.7 434.0,318.5 439.1,314.2 444.0,310.0 449.3,315.1 454.6,320.3 459.9,325.4 465.0,330.4 470.0,335.0 474.7,339.2 479.2,343.1 483.6,346.8 488.0,350.5 492.4,354.2 493.3,354.3 494.2,354.3 495.1,354.4 496.1,354.4 497.3,354.5 498.7,354.6 500.3,354.8 502.1,355.0 503.8,355.1 505.5,355.0 507.2,354.7 508.9,354.3 510.6,353.9 512.2,353.4 513.6,352.9 514.8,352.5 515.8,352.1 516.7,351.7 517.6,351.3 518.5,350.9 518.5,350.9 517.6,351.5 516.7,352.0 515.8,352.6 514.8,353.2 513.6,353.9 512.2,354.7 510.6,355.6 508.9,356.5 507.2,357.4 505.5,358.3 503.8,359.1 502.1,359.9 500.3,360.7 498.7,361.4 497.3,362.0 496.1,362.5 495.1,362.8 494.2,363.1 493.3,363.4 492.4,363.7 491.3,363.5 490.3,363.4 489.2,363.2 488.1,363.1 487.0,362.8 485.9,362.5 484.7,362.1 483.5,361.7 482.3,361.3 480.9,360.7 479.4,360.0 477.8,359.2 476.1,358.4 474.4,357.5 472.7,356.6 471.1,355.7 469.4,354.8 467.8,353.8 466.1,352.8 464.5,351.7 462.9,350.5 461.3,349.3 459.6,348.0 458.0,346.6 456.4,345.2 454.7,343.6 452.9,341.9 451.2,340.1 449.6,338.5 448.2,337.0 447.1,335.8 446.3,334.8 445.6,333.8 444.9,332.9 444.2,332.0 443.4,333.2 442.5,334.3 441.7,335.5 440.9,336.7 440.0,337.8 439.1,338.9 438.2,340.0 437.3,341.0 436.4,342.0 435.5,343.0 434.6,344.0 433.7,344.9 432.9,345.8 432.0,346.7 431.0,347.5 430.0,348.3 429.0,349.1 427.9,349.9 426.8,350.6 425.6,351.3 424.3,351.9 422.9,352.4 421.4,352.9 419.9,353.3 418.4,353.7 416.9,354.0 415.5,354.2 414.0,354.4 412.6,354.5 411.1,354.5 409.6,354.5 408.2,354.3 406.7,354.2 405.3,354.0 403.8,353.7 402.3,353.4 400.9,353.1 399.4,352.7 398.0,352.3 396.5,351.8 395.1,351.3 393.6,350.7 392.2,350.0 390.7,349.4 389.3,348.6 387.8,347.8 386.4,347.0 384.9,346.1 383.5,345.1 382.0,344.0 380.5,342.8 378.9,341.4 377.4,340.0 376.0,338.6 374.7,337.3 373.6,336.2 372.6,335.1 371.8,334.1 371.0,333.0 370.4,331.9 369.9,330.7 369.6,329.4 369.4,328.1 369.2,326.7 368.9,325.4" fill="url(#gdd)" />
<polygon points="368.4,310.9 369.6,312.2 370.7,313.5 371.9,314.9 373.1,316.2 374.3,317.4 375.6,318.6 376.9,319.7 378.3,320.9 379.6,321.9 381.0,322.9 382.4,323.8 383.8,324.7 385.2,325.4 386.6,326.2 388.0,326.9 389.4,327.6 390.8,328.2 392.2,328.8 393.6,329.4 395.0,329.9 396.5,330.3 397.9,330.7 399.4,331.1 401.0,331.4 402.5,331.6 404.1,331.8 405.7,331.9 407.3,332.0 408.9,331.9 410.5,331.8 412.0,331.6 413.5,331.4 415.0,331.0 416.5,330.5 418.0,329.8 419.5,328.8 421.1,327.5 422.7,326.1 424.2,324.7 425.5,323.3 426.6,322.0 427.6,320.7 428.4,319.4 429.2,318.1 430.0,316.8 430.8,315.5 431.5,314.1 432.3,312.7 432.9,311.4 433.6,310.0 434.2,308.7 434.8,307.4 435.3,306.1 435.9,304.7 436.5,303.0 437.1,301.0 437.8,298.7 438.5,296.3 439.2,293.9 439.9,291.5 440.7,289.2 441.5,286.9 442.3,284.7 443.2,282.4 444.0,280.1 444.7,281.6 445.4,283.1 446.1,284.6 446.8,286.0 447.5,287.5 448.2,288.8 448.8,290.0 449.5,291.2 450.3,292.7 451.4,294.5 452.7,296.9 454.3,299.8 456.1,302.8 457.8,305.8 459.5,308.5 461.1,310.9 462.8,313.1 464.4,315.2 466.1,317.2 467.7,319.1 469.3,320.9 471.0,322.6 472.6,324.3 474.3,325.8 475.9,327.3 477.5,328.7 479.2,330.1 480.8,331.4 482.5,332.6 484.1,333.8 485.7,334.9 487.4,335.9 489.1,336.9 490.7,337.8 492.3,338.6 493.9,339.3 495.5,339.9 497.1,340.5 498.6,340.9 500.0,341.3 501.3,341.6 502.5,341.9 503.7,342.0 504.8,342.2 506.0,342.2 507.2,342.2 508.3,342.1 509.5,341.9 510.7,341.7 512.0,341.4 513.4,341.0 514.9,340.6 516.4,340.1 517.9,339.6 519.4,339.1 519.4,339.1 518.3,339.8 517.2,340.5 516.1,341.2 514.9,341.9 513.6,342.7 512.1,343.6 510.5,344.6 508.9,345.6 507.2,346.7 505.5,347.6 503.8,348.5 502.1,349.4 500.3,350.2 498.7,351.0 497.3,351.7 496.1,352.3 495.1,352.8 494.2,353.3 493.3,353.7 492.4,354.2 491.3,354.0 490.3,353.8 489.2,353.5 488.1,353.3 487.0,352.9 485.9,352.5 484.7,352.0 483.5,351.4 482.3,350.8 480.9,350.1 479.4,349.3 477.8,348.4 476.1,347.4 474.4,346.3 472.7,345.2 471.1,344.0 469.4,342.7 467.8,341.4 466.1,340.0 464.5,338.6 462.9,337.2 461.3,335.8 459.6,334.3 458.0,332.8 456.4,331.3 454.7,329.7 452.9,328.0 451.2,326.3 449.6,324.6 448.2,323.1 447.1,321.8 446.3,320.6 445.6,319.5 444.9,318.4 444.2,317.3 443.4,318.6 442.5,320.0 441.7,321.3 440.9,322.7 440.0,324.0 439.1,325.3 438.2,326.7 437.3,328.0 436.4,329.3 435.5,330.5 434.6,331.7 433.7,332.8 432.9,333.9 432.0,335.0 431.0,336.0 430.0,337.0 429.0,338.1 427.9,339.1 426.8,340.0 425.6,340.9 424.3,341.7 422.9,342.4 421.4,343.0 419.9,343.5 418.4,344.0 416.9,344.4 415.5,344.6 414.0,344.8 412.6,345.0 411.1,345.0 409.6,345.0 408.2,344.8 406.7,344.6 405.3,344.3 403.8,344.0 402.3,343.6 400.9,343.1 399.4,342.6 398.0,342.0 396.5,341.4 395.1,340.7 393.6,339.9 392.2,339.1 390.7,338.2 389.3,337.3 387.8,336.3 386.4,335.3 384.9,334.3 383.5,333.1 382.0,331.9 380.5,330.5 378.9,329.1 377.4,327.6 376.0,326.0 374.7,324.6 373.6,323.3 372.7,322.0 371.8,320.7 371.1,319.4 370.4,318.1 369.9,316.7 369.4,315.3 369.1,313.8 368.8,312.4 368.4,310.9" fill="url(#gbd)" />
<polygon points="407.0,344.8 408.4,344.0 409.8,343.1 411.3,342.3 412.7,341.4 414.0,340.5 415.3,339.6 416.5,338.6 417.7,337.6 418.8,336.6 420.0,335.5 421.1,334.4 422.2,333.3 423.3,332.1 424.4,330.8 425.5,329.5 426.6,328.0 427.8,326.4 428.9,324.8 430.0,323.1 431.0,321.5 431.9,319.9 432.7,318.3 433.4,316.7 434.2,315.1 435.0,313.5 435.9,311.8 436.9,310.1 438.0,308.3 439.0,306.7 439.9,305.2 440.8,303.9 441.6,302.7 442.4,301.7 443.2,300.6 444.0,299.5 444.7,300.5 445.4,301.4 446.1,302.4 446.8,303.3 447.5,304.3 448.2,305.2 448.8,306.1 449.5,306.9 450.3,308.0 451.4,309.3 452.7,311.0 454.3,313.0 456.1,315.1 457.8,317.2 459.5,319.1 461.1,320.9 462.8,322.6 464.4,324.2 466.1,325.8 467.7,327.3 469.4,328.7 471.1,330.1 472.7,331.4 474.4,332.6 475.9,333.8 477.3,334.9 478.7,335.9 479.9,336.8 481.2,337.8 482.5,338.7 483.8,339.6 485.1,340.5 486.4,341.4 487.8,342.3 489.1,343.2 490.5,344.1 491.9,345.0 493.4,345.9 494.7,346.8 496.0,347.5 497.1,348.1 498.1,348.6 499.1,349.0 500.0,349.5 501.0,349.9 501.0,349.9 500.3,350.2 499.6,350.6 498.9,350.9 498.1,351.3 497.3,351.7 496.4,352.2 495.5,352.8 494.5,353.4 493.4,353.9 492.4,354.2 491.4,354.2 490.3,354.0 489.2,353.7 488.1,353.3 487.0,352.9 485.9,352.5 484.7,352.0 483.5,351.4 482.3,350.8 480.9,350.1 479.4,349.3 477.8,348.4 476.1,347.4 474.4,346.3 472.7,345.2 471.1,344.0 469.4,342.7 467.8,341.4 466.1,340.0 464.5,338.6 462.9,337.2 461.3,335.8 459.6,334.3 458.0,332.8 456.4,331.3 454.7,329.7 452.9,328.0 451.2,326.3 449.6,324.6 448.2,323.1 447.1,321.8 446.3,320.6 445.6,319.5 444.9,318.4 444.2,317.3 443.4,318.6 442.5,320.0 441.7,321.3 440.9,322.7 440.0,324.0 439.1,325.3 438.2,326.7 437.3,328.0 436.4,329.3 435.5,330.5 434.6,331.7 433.7,332.8 432.9,333.9 432.0,335.0 431.0,336.0 430.0,337.0 429.0,338.1 427.9,339.1 426.8,340.0 425.6,340.9 424.3,341.7 422.9,342.4 421.4,343.0 419.9,343.5 418.4,344.0 416.9,344.4 415.3,344.6 413.8,344.8 412.4,344.9 411.1,345.0 410.1,345.0 409.2,345.0 408.5,344.9 407.8,344.9 407.0,344.8" fill="url(#gbld)" />
<line x1="473.20" y1="307.10" x2="463.00" y2="319.90" stroke="#222" stroke-width="0.7" />
<text x="468.40" y="302.20" font-size="8.0" text-anchor="start" font-weight="normal" fill="#1a1a1a" ><tspan font-style="italic">z</tspan>=0.65m</text>
<line x1="399.90" y1="326.10" x2="388.50" y2="345.00" stroke="#222" stroke-width="0.7" />
<text x="391.50" y="319.30" font-size="8.0" text-anchor="start" font-weight="normal" fill="#1a1a1a" ><tspan font-style="italic">z</tspan>=0.55m</text>
<line x1="392.20" y1="357.20" x2="384.20" y2="367.90" stroke="#222" stroke-width="0.7" />
<text x="364.30" y="376.30" font-size="8.0" text-anchor="start" font-weight="normal" fill="#1a1a1a" ><tspan font-style="italic">z</tspan>=0.45m</text>
<line x1="349.00" y1="395.40" x2="349.00" y2="266.70" stroke="#a8a8a8" stroke-width="2.0" />
<line x1="349.20" y1="395.40" x2="443.85" y2="421.00" stroke="#606060" stroke-width="1.0" />
<line x1="443.85" y1="421.00" x2="538.50" y2="395.40" stroke="#606060" stroke-width="1.0" />
<line x1="346.00" y1="395.40" x2="349.20" y2="395.40" stroke="#333" stroke-width="0.9" />
<text x="344.30" y="398.90" font-size="8.9" text-anchor="end" font-weight="normal" fill="#1a1a1a" >0.40</text>
<line x1="346.00" y1="363.22" x2="349.20" y2="363.22" stroke="#333" stroke-width="0.9" />
<text x="344.30" y="366.72" font-size="8.9" text-anchor="end" font-weight="normal" fill="#1a1a1a" >0.45</text>
<line x1="346.00" y1="331.05" x2="349.20" y2="331.05" stroke="#333" stroke-width="0.9" />
<text x="344.30" y="334.55" font-size="8.9" text-anchor="end" font-weight="normal" fill="#1a1a1a" >0.50</text>
<line x1="346.00" y1="298.88" x2="349.20" y2="298.88" stroke="#333" stroke-width="0.9" />
<text x="344.30" y="302.38" font-size="8.9" text-anchor="end" font-weight="normal" fill="#1a1a1a" >0.55</text>
<line x1="346.00" y1="266.70" x2="349.20" y2="266.70" stroke="#333" stroke-width="0.9" />
<text x="344.30" y="270.20" font-size="8.9" text-anchor="end" font-weight="normal" fill="#1a1a1a" >0.60</text>
<line x1="349.20" y1="395.40" x2="349.20" y2="398.00" stroke="#333" stroke-width="0.8" />
<text x="349.50" y="408.60" font-size="8.9" text-anchor="middle" font-weight="normal" fill="#1a1a1a" >−25</text>
<line x1="358.66" y1="397.96" x2="358.66" y2="399.76" stroke="#333" stroke-width="0.8" />
<line x1="368.13" y1="400.52" x2="368.13" y2="403.12" stroke="#333" stroke-width="0.8" />
<text x="368.43" y="413.72" font-size="8.9" text-anchor="middle" font-weight="normal" fill="#1a1a1a" >−15</text>
<line x1="377.60" y1="403.08" x2="377.60" y2="404.88" stroke="#333" stroke-width="0.8" />
<line x1="387.06" y1="405.64" x2="387.06" y2="408.24" stroke="#333" stroke-width="0.8" />
<text x="387.36" y="418.84" font-size="8.9" text-anchor="middle" font-weight="normal" fill="#1a1a1a" >−5</text>
<line x1="396.52" y1="408.20" x2="396.52" y2="410.00" stroke="#333" stroke-width="0.8" />
<line x1="405.99" y1="410.76" x2="405.99" y2="413.36" stroke="#333" stroke-width="0.8" />
<text x="406.29" y="423.96" font-size="8.9" text-anchor="middle" font-weight="normal" fill="#1a1a1a" >5</text>
<line x1="415.46" y1="413.32" x2="415.46" y2="415.12" stroke="#333" stroke-width="0.8" />
<line x1="424.92" y1="415.88" x2="424.92" y2="418.48" stroke="#333" stroke-width="0.8" />
<text x="425.22" y="429.08" font-size="8.9" text-anchor="middle" font-weight="normal" fill="#1a1a1a" >15</text>
<line x1="434.38" y1="418.44" x2="434.38" y2="420.24" stroke="#333" stroke-width="0.8" />
<line x1="443.85" y1="421.00" x2="443.85" y2="423.60" stroke="#333" stroke-width="0.8" />
<text x="444.15" y="434.20" font-size="8.9" text-anchor="middle" font-weight="normal" fill="#1a1a1a" >25</text>
<line x1="443.85" y1="421.00" x2="443.85" y2="423.60" stroke="#333" stroke-width="0.8" />
<line x1="453.32" y1="418.44" x2="453.32" y2="420.24" stroke="#333" stroke-width="0.8" />
<line x1="462.78" y1="415.88" x2="462.78" y2="418.48" stroke="#333" stroke-width="0.8" />
<text x="463.08" y="429.08" font-size="8.9" text-anchor="middle" font-weight="normal" fill="#1a1a1a" >15</text>
<line x1="472.25" y1="413.32" x2="472.25" y2="415.12" stroke="#333" stroke-width="0.8" />
<line x1="481.71" y1="410.76" x2="481.71" y2="413.36" stroke="#333" stroke-width="0.8" />
<text x="482.01" y="423.96" font-size="8.9" text-anchor="middle" font-weight="normal" fill="#1a1a1a" >5</text>
<line x1="491.18" y1="408.20" x2="491.18" y2="410.00" stroke="#333" stroke-width="0.8" />
<line x1="500.64" y1="405.64" x2="500.64" y2="408.24" stroke="#333" stroke-width="0.8" />
<text x="500.94" y="418.84" font-size="8.9" text-anchor="middle" font-weight="normal" fill="#1a1a1a" >−5</text>
<line x1="510.11" y1="403.08" x2="510.11" y2="404.88" stroke="#333" stroke-width="0.8" />
<line x1="519.57" y1="400.52" x2="519.57" y2="403.12" stroke="#333" stroke-width="0.8" />
<text x="519.87" y="413.72" font-size="8.9" text-anchor="middle" font-weight="normal" fill="#1a1a1a" >−15</text>
<line x1="529.03" y1="397.96" x2="529.03" y2="399.76" stroke="#333" stroke-width="0.8" />
<line x1="538.50" y1="395.40" x2="538.50" y2="398.00" stroke="#333" stroke-width="0.8" />
<text x="538.80" y="408.60" font-size="8.9" text-anchor="middle" font-weight="normal" fill="#1a1a1a" >−25</text>
<text x="397.02" y="441.70" font-size="12.5" text-anchor="middle" font-weight="normal" fill="#1a1a1a" ><tspan font-style="italic" font-size="13.5">θ</tspan> / (°)</text>
<text x="504.68" y="438.90" font-size="12.5" text-anchor="middle" font-weight="normal" fill="#1a1a1a" ><tspan font-style="italic" font-size="13.5">ψ</tspan> / (°)</text>
<text transform="translate(321.00 257.30) scale(1.3 1)" font-size="11.2" font-style="italic" fill="#2a2a2a" stroke="none">σ</text>
<text transform="translate(325.60 254.70) scale(1.5 0.85)" font-size="8.5" text-anchor="middle" fill="#2a2a2a" stroke="none">^</text>
<text x="328.30" y="259.80" font-size="5.9" text-anchor="start" font-weight="normal" fill="#1a1a1a" ><tspan font-style="italic">R</tspan>,2</text>
<text x="340.70" y="257.30" font-size="10.6" text-anchor="start" font-weight="normal" fill="#1a1a1a" >/ (°)</text>
<text x="311.00" y="282.40" font-size="8.0" text-anchor="start" font-weight="normal" fill="#1a1a1a" >(×10<tspan font-size="5.4" dy="-3.1">−2</tspan><tspan dy="3.1">)</tspan></text>
<text x="424.50" y="472.40" font-size="12.2" text-anchor="middle" font-weight="normal" fill="#111" >(<tspan font-weight="bold">d</tspan>)</text>
</g>
<g id="plot-e">
<line x1="63.28" y1="625.28" x2="63.28" y2="496.58" stroke="#eeeeee" stroke-width="0.8" />
<line x1="158.18" y1="609.92" x2="158.18" y2="481.22" stroke="#eeeeee" stroke-width="0.8" />
<line x1="44.30" y1="604.66" x2="139.20" y2="579.06" stroke="#eeeeee" stroke-width="0.8" />
<line x1="139.20" y1="579.06" x2="234.10" y2="604.66" stroke="#eeeeee" stroke-width="0.8" />
<line x1="63.28" y1="635.52" x2="158.18" y2="609.92" stroke="#eeeeee" stroke-width="0.8" />
<line x1="63.28" y1="625.28" x2="158.18" y2="650.88" stroke="#eeeeee" stroke-width="0.8" />
<line x1="82.26" y1="620.16" x2="82.26" y2="491.46" stroke="#eeeeee" stroke-width="0.8" />
<line x1="177.16" y1="615.04" x2="177.16" y2="486.34" stroke="#eeeeee" stroke-width="0.8" />
<line x1="44.30" y1="578.92" x2="139.20" y2="553.32" stroke="#eeeeee" stroke-width="0.8" />
<line x1="139.20" y1="553.32" x2="234.10" y2="578.92" stroke="#eeeeee" stroke-width="0.8" />
<line x1="82.26" y1="640.64" x2="177.16" y2="615.04" stroke="#eeeeee" stroke-width="0.8" />
<line x1="82.26" y1="620.16" x2="177.16" y2="645.76" stroke="#eeeeee" stroke-width="0.8" />
<line x1="101.24" y1="615.04" x2="101.24" y2="486.34" stroke="#eeeeee" stroke-width="0.8" />
<line x1="196.14" y1="620.16" x2="196.14" y2="491.46" stroke="#eeeeee" stroke-width="0.8" />
<line x1="44.30" y1="553.18" x2="139.20" y2="527.58" stroke="#eeeeee" stroke-width="0.8" />
<line x1="139.20" y1="527.58" x2="234.10" y2="553.18" stroke="#eeeeee" stroke-width="0.8" />
<line x1="101.24" y1="645.76" x2="196.14" y2="620.16" stroke="#eeeeee" stroke-width="0.8" />
<line x1="101.24" y1="615.04" x2="196.14" y2="640.64" stroke="#eeeeee" stroke-width="0.8" />
<line x1="120.22" y1="609.92" x2="120.22" y2="481.22" stroke="#eeeeee" stroke-width="0.8" />
<line x1="215.12" y1="625.28" x2="215.12" y2="496.58" stroke="#eeeeee" stroke-width="0.8" />
<line x1="44.30" y1="527.44" x2="139.20" y2="501.84" stroke="#eeeeee" stroke-width="0.8" />
<line x1="139.20" y1="501.84" x2="234.10" y2="527.44" stroke="#eeeeee" stroke-width="0.8" />
<line x1="120.22" y1="650.88" x2="215.12" y2="625.28" stroke="#eeeeee" stroke-width="0.8" />
<line x1="120.22" y1="609.92" x2="215.12" y2="635.52" stroke="#eeeeee" stroke-width="0.8" />
<line x1="44.30" y1="501.70" x2="139.20" y2="476.10" stroke="#bebebe" stroke-width="0.9" />
<line x1="139.20" y1="476.10" x2="234.10" y2="501.70" stroke="#bebebe" stroke-width="0.9" />
<line x1="139.20" y1="604.80" x2="139.20" y2="476.10" stroke="#d2d2d2" stroke-width="0.9" />
<line x1="234.10" y1="630.40" x2="234.10" y2="501.70" stroke="#bebebe" stroke-width="0.9" />
<line x1="44.30" y1="630.40" x2="139.20" y2="604.80" stroke="#c8c8c8" stroke-width="0.9" />
<line x1="139.20" y1="604.80" x2="234.10" y2="630.40" stroke="#c8c8c8" stroke-width="0.9" />
<polygon points="63.60,548.38 139.20,569.28 214.80,548.38 139.20,527.48" fill="#0c7fa9"/>
<text x="159.00" y="571.28" font-size="7.9" text-anchor="start" font-weight="normal" fill="#1a1a1a" ><tspan font-style="italic">z</tspan>=0.45/0.55/0.65m</text>
<line x1="44.40" y1="630.40" x2="44.40" y2="501.70" stroke="#828282" stroke-width="1.4" />
<line x1="44.30" y1="630.40" x2="139.20" y2="656.00" stroke="#606060" stroke-width="1.0" />
<line x1="139.20" y1="656.00" x2="234.10" y2="630.40" stroke="#606060" stroke-width="1.0" />
<line x1="41.10" y1="630.40" x2="44.30" y2="630.40" stroke="#333" stroke-width="0.9" />
<text x="39.40" y="633.90" font-size="8.9" text-anchor="end" font-weight="normal" fill="#1a1a1a" >0.50</text>
<line x1="41.10" y1="604.66" x2="44.30" y2="604.66" stroke="#333" stroke-width="0.9" />
<text x="39.40" y="608.16" font-size="8.9" text-anchor="end" font-weight="normal" fill="#1a1a1a" >0.60</text>
<line x1="41.10" y1="578.92" x2="44.30" y2="578.92" stroke="#333" stroke-width="0.9" />
<text x="39.40" y="582.42" font-size="8.9" text-anchor="end" font-weight="normal" fill="#1a1a1a" >0.70</text>
<line x1="41.10" y1="553.18" x2="44.30" y2="553.18" stroke="#333" stroke-width="0.9" />
<text x="39.40" y="556.68" font-size="8.9" text-anchor="end" font-weight="normal" fill="#1a1a1a" >0.80</text>
<line x1="41.10" y1="527.44" x2="44.30" y2="527.44" stroke="#333" stroke-width="0.9" />
<text x="39.40" y="530.94" font-size="8.9" text-anchor="end" font-weight="normal" fill="#1a1a1a" >0.90</text>
<line x1="41.10" y1="501.70" x2="44.30" y2="501.70" stroke="#333" stroke-width="0.9" />
<text x="39.40" y="505.20" font-size="8.9" text-anchor="end" font-weight="normal" fill="#1a1a1a" >1.00</text>
<line x1="44.30" y1="630.40" x2="44.30" y2="633.00" stroke="#333" stroke-width="0.8" />
<text x="44.60" y="643.60" font-size="8.9" text-anchor="middle" font-weight="normal" fill="#1a1a1a" >−25</text>
<line x1="53.79" y1="632.96" x2="53.79" y2="634.76" stroke="#333" stroke-width="0.8" />
<line x1="63.28" y1="635.52" x2="63.28" y2="638.12" stroke="#333" stroke-width="0.8" />
<text x="63.58" y="648.72" font-size="8.9" text-anchor="middle" font-weight="normal" fill="#1a1a1a" >−15</text>
<line x1="72.77" y1="638.08" x2="72.77" y2="639.88" stroke="#333" stroke-width="0.8" />
<line x1="82.26" y1="640.64" x2="82.26" y2="643.24" stroke="#333" stroke-width="0.8" />
<text x="82.56" y="653.84" font-size="8.9" text-anchor="middle" font-weight="normal" fill="#1a1a1a" >−5</text>
<line x1="91.75" y1="643.20" x2="91.75" y2="645.00" stroke="#333" stroke-width="0.8" />
<line x1="101.24" y1="645.76" x2="101.24" y2="648.36" stroke="#333" stroke-width="0.8" />
<text x="101.54" y="658.96" font-size="8.9" text-anchor="middle" font-weight="normal" fill="#1a1a1a" >5</text>
<line x1="110.73" y1="648.32" x2="110.73" y2="650.12" stroke="#333" stroke-width="0.8" />
<line x1="120.22" y1="650.88" x2="120.22" y2="653.48" stroke="#333" stroke-width="0.8" />
<text x="120.52" y="664.08" font-size="8.9" text-anchor="middle" font-weight="normal" fill="#1a1a1a" >15</text>
<line x1="129.71" y1="653.44" x2="129.71" y2="655.24" stroke="#333" stroke-width="0.8" />
<line x1="139.20" y1="656.00" x2="139.20" y2="658.60" stroke="#333" stroke-width="0.8" />
<text x="139.50" y="669.20" font-size="8.9" text-anchor="middle" font-weight="normal" fill="#1a1a1a" >25</text>
<line x1="139.20" y1="656.00" x2="139.20" y2="658.60" stroke="#333" stroke-width="0.8" />
<line x1="148.69" y1="653.44" x2="148.69" y2="655.24" stroke="#333" stroke-width="0.8" />
<line x1="158.18" y1="650.88" x2="158.18" y2="653.48" stroke="#333" stroke-width="0.8" />
<text x="158.48" y="664.08" font-size="8.9" text-anchor="middle" font-weight="normal" fill="#1a1a1a" >15</text>
<line x1="167.67" y1="648.32" x2="167.67" y2="650.12" stroke="#333" stroke-width="0.8" />
<line x1="177.16" y1="645.76" x2="177.16" y2="648.36" stroke="#333" stroke-width="0.8" />
<text x="177.46" y="658.96" font-size="8.9" text-anchor="middle" font-weight="normal" fill="#1a1a1a" >5</text>
<line x1="186.65" y1="643.20" x2="186.65" y2="645.00" stroke="#333" stroke-width="0.8" />
<line x1="196.14" y1="640.64" x2="196.14" y2="643.24" stroke="#333" stroke-width="0.8" />
<text x="196.44" y="653.84" font-size="8.9" text-anchor="middle" font-weight="normal" fill="#1a1a1a" >−5</text>
<line x1="205.63" y1="638.08" x2="205.63" y2="639.88" stroke="#333" stroke-width="0.8" />
<line x1="215.12" y1="635.52" x2="215.12" y2="638.12" stroke="#333" stroke-width="0.8" />
<text x="215.42" y="648.72" font-size="8.9" text-anchor="middle" font-weight="normal" fill="#1a1a1a" >−15</text>
<line x1="224.61" y1="632.96" x2="224.61" y2="634.76" stroke="#333" stroke-width="0.8" />
<line x1="234.10" y1="630.40" x2="234.10" y2="633.00" stroke="#333" stroke-width="0.8" />
<text x="234.40" y="643.60" font-size="8.9" text-anchor="middle" font-weight="normal" fill="#1a1a1a" >−25</text>
<text x="92.25" y="676.70" font-size="12.5" text-anchor="middle" font-weight="normal" fill="#1a1a1a" ><tspan font-style="italic" font-size="13.5">θ</tspan> / (°)</text>
<text x="200.15" y="673.90" font-size="12.5" text-anchor="middle" font-weight="normal" fill="#1a1a1a" ><tspan font-style="italic" font-size="13.5">ψ</tspan> / (°)</text>
<text transform="translate(16.10 492.30) scale(1.3 1)" font-size="11.2" font-style="italic" fill="#2a2a2a" stroke="none">σ</text>
<text x="23.40" y="494.80" font-size="5.9" text-anchor="start" font-weight="normal" fill="#1a1a1a" ><tspan font-style="italic">R</tspan>,3</text>
<text x="35.80" y="492.30" font-size="10.6" text-anchor="start" font-weight="normal" fill="#1a1a1a" >/ (°)</text>
<text x="6.10" y="517.40" font-size="8.0" text-anchor="start" font-weight="normal" fill="#1a1a1a" >(×10<tspan font-size="5.4" dy="-3.1">2</tspan><tspan dy="3.1">)</tspan></text>
<text x="120.50" y="706.70" font-size="12.2" text-anchor="middle" font-weight="normal" fill="#111" >(<tspan font-weight="bold">e</tspan>)</text>
</g>
<g id="plot-f">
<line x1="367.94" y1="625.28" x2="367.94" y2="496.58" stroke="#eeeeee" stroke-width="0.8" />
<line x1="462.64" y1="609.92" x2="462.64" y2="481.22" stroke="#eeeeee" stroke-width="0.8" />
<line x1="349.00" y1="604.66" x2="443.70" y2="579.06" stroke="#eeeeee" stroke-width="0.8" />
<line x1="443.70" y1="579.06" x2="538.40" y2="604.66" stroke="#eeeeee" stroke-width="0.8" />
<line x1="367.94" y1="635.52" x2="462.64" y2="609.92" stroke="#eeeeee" stroke-width="0.8" />
<line x1="367.94" y1="625.28" x2="462.64" y2="650.88" stroke="#eeeeee" stroke-width="0.8" />
<line x1="386.88" y1="620.16" x2="386.88" y2="491.46" stroke="#eeeeee" stroke-width="0.8" />
<line x1="481.58" y1="615.04" x2="481.58" y2="486.34" stroke="#eeeeee" stroke-width="0.8" />
<line x1="349.00" y1="578.92" x2="443.70" y2="553.32" stroke="#eeeeee" stroke-width="0.8" />
<line x1="443.70" y1="553.32" x2="538.40" y2="578.92" stroke="#eeeeee" stroke-width="0.8" />
<line x1="386.88" y1="640.64" x2="481.58" y2="615.04" stroke="#eeeeee" stroke-width="0.8" />
<line x1="386.88" y1="620.16" x2="481.58" y2="645.76" stroke="#eeeeee" stroke-width="0.8" />
<line x1="405.82" y1="615.04" x2="405.82" y2="486.34" stroke="#eeeeee" stroke-width="0.8" />
<line x1="500.52" y1="620.16" x2="500.52" y2="491.46" stroke="#eeeeee" stroke-width="0.8" />
<line x1="349.00" y1="553.18" x2="443.70" y2="527.58" stroke="#eeeeee" stroke-width="0.8" />
<line x1="443.70" y1="527.58" x2="538.40" y2="553.18" stroke="#eeeeee" stroke-width="0.8" />
<line x1="405.82" y1="645.76" x2="500.52" y2="620.16" stroke="#eeeeee" stroke-width="0.8" />
<line x1="405.82" y1="615.04" x2="500.52" y2="640.64" stroke="#eeeeee" stroke-width="0.8" />
<line x1="424.76" y1="609.92" x2="424.76" y2="481.22" stroke="#eeeeee" stroke-width="0.8" />
<line x1="519.46" y1="625.28" x2="519.46" y2="496.58" stroke="#eeeeee" stroke-width="0.8" />
<line x1="349.00" y1="527.44" x2="443.70" y2="501.84" stroke="#eeeeee" stroke-width="0.8" />
<line x1="443.70" y1="501.84" x2="538.40" y2="527.44" stroke="#eeeeee" stroke-width="0.8" />
<line x1="424.76" y1="650.88" x2="519.46" y2="625.28" stroke="#eeeeee" stroke-width="0.8" />
<line x1="424.76" y1="609.92" x2="519.46" y2="635.52" stroke="#eeeeee" stroke-width="0.8" />
<line x1="349.00" y1="501.70" x2="443.70" y2="476.10" stroke="#bebebe" stroke-width="0.9" />
<line x1="443.70" y1="476.10" x2="538.40" y2="501.70" stroke="#bebebe" stroke-width="0.9" />
<line x1="443.70" y1="604.80" x2="443.70" y2="476.10" stroke="#d2d2d2" stroke-width="0.9" />
<line x1="538.40" y1="630.40" x2="538.40" y2="501.70" stroke="#bebebe" stroke-width="0.9" />
<line x1="349.00" y1="630.40" x2="443.70" y2="604.80" stroke="#c8c8c8" stroke-width="0.9" />
<line x1="443.70" y1="604.80" x2="538.40" y2="630.40" stroke="#c8c8c8" stroke-width="0.9" />
<defs>
<linearGradient id="gbf" gradientUnits="userSpaceOnUse" x1="0" y1="498" x2="0" y2="597"><stop offset="0" stop-color="#22a0ca"/><stop offset="0.3" stop-color="#1297c2"/><stop offset="0.6" stop-color="#129dc9"/><stop offset="1" stop-color="#18abd9"/></linearGradient>
<linearGradient id="glf" gradientUnits="userSpaceOnUse" x1="0" y1="586" x2="0" y2="619"><stop offset="0" stop-color="#bebebe"/><stop offset="1" stop-color="#d2d2d2"/></linearGradient>
<linearGradient id="gdf" gradientUnits="userSpaceOnUse" x1="0" y1="540.3" x2="0" y2="607.6"><stop offset="0" stop-color="#868686"/><stop offset="1" stop-color="#7c7c7c"/></linearGradient>
</defs>
<polygon points="368.8,561.8 369.5,562.9 370.2,563.9 370.9,565.0 371.7,566.1 372.6,567.5 373.7,569.2 374.9,571.0 376.3,573.0 377.6,575.0 378.9,576.9 380.2,578.7 381.5,580.4 382.8,582.1 384.1,583.7 385.3,585.2 386.4,586.6 387.5,587.8 388.5,589.0 389.5,590.0 390.3,590.8 391.0,591.4 391.5,591.8 391.9,592.1 392.3,592.4 392.8,592.7 393.8,593.0 394.8,593.3 395.8,593.5 396.8,593.8 397.9,594.0 398.6,594.1 398.9,594.1 399.5,594.1 401.0,594.1 404.2,594.4 409.4,595.0 416.2,596.0 424.0,597.0 432.1,597.7 440.0,598.0 447.9,597.7 456.3,597.0 464.7,596.1 472.8,595.0 480.0,594.0 486.2,593.0 491.7,591.9 496.8,590.7 501.7,589.5 506.9,588.4 507.9,588.1 508.9,587.9 509.9,587.7 510.9,587.4 512.0,587.1 513.2,586.8 514.5,586.4 515.9,586.0 517.3,585.6 518.6,585.2 518.6,585.2 517.8,585.9 517.0,586.6 516.2,587.4 515.4,588.1 514.5,588.8 513.6,589.5 512.6,590.3 511.6,591.0 510.5,591.8 509.5,592.5 508.5,593.2 507.5,594.0 506.4,594.7 505.4,595.5 504.4,596.2 504.4,596.4 503.2,597.3 502.1,598.1 501.0,599.0 499.7,599.9 498.2,601.0 496.3,602.2 494.2,603.6 491.9,605.0 489.6,606.4 487.3,607.7 485.1,608.9 482.9,610.0 480.8,611.0 478.6,612.0 476.4,612.9 474.2,613.8 472.0,614.6 469.9,615.3 467.7,616.0 465.5,616.6 463.3,617.2 461.1,617.7 458.9,618.1 456.7,618.5 454.5,618.8 452.3,619.1 450.1,619.3 448.0,619.4 445.8,619.5 443.6,619.5 441.4,619.4 439.2,619.2 437.1,619.0 434.9,618.6 432.7,618.2 430.5,617.7 428.4,617.2 426.3,616.6 424.1,615.8 421.8,615.0 419.3,614.0 416.6,612.8 413.9,611.6 411.4,610.3 409.1,609.2 407.2,608.2 405.5,607.2 403.9,606.3 402.4,605.4 400.9,604.5 399.2,603.6 397.5,602.6 395.8,601.7 394.3,600.8 393.0,600.0 392.0,599.3 391.3,598.8 390.7,598.2 390.2,597.7 389.5,597.0 388.7,596.2 388.0,595.5 387.2,594.6 386.3,593.6 385.3,592.5 384.1,591.2 382.8,589.8 381.5,588.2 380.1,586.6 378.9,585.0 377.8,583.3 376.7,581.5 375.7,579.7 374.8,578.0 373.9,576.3 373.1,574.7 372.4,573.3 371.8,571.8 371.2,570.4 370.7,569.0 370.2,567.6 369.8,566.1 369.5,564.7 369.2,563.2 368.8,561.8" fill="url(#glf)" />
<polygon points="368.2,540.3 369.0,541.8 369.9,543.2 370.7,544.6 371.6,546.2 372.6,547.9 373.7,549.9 375.0,552.0 376.3,554.3 377.6,556.5 378.9,558.6 380.2,560.5 381.5,562.4 382.7,564.2 384.0,565.9 385.3,567.5 386.6,569.1 387.9,570.5 389.2,571.9 390.4,573.2 391.6,574.4 392.7,575.4 393.7,576.3 394.7,577.0 395.6,577.8 396.6,578.6 397.6,578.8 398.6,578.9 399.6,579.1 400.6,579.2 401.7,579.3 402.5,579.2 402.9,579.0 403.6,578.9 405.1,578.9 408.0,579.2 412.6,580.2 418.6,581.6 425.4,583.2 432.7,584.4 440.0,585.0 447.7,584.7 456.2,583.7 464.7,582.5 472.9,581.1 480.0,580.0 485.9,579.1 490.9,578.3 495.4,577.5 499.8,576.7 504.4,575.9 505.9,575.7 507.5,575.6 509.0,575.4 510.5,575.2 512.0,575.0 513.4,574.8 514.7,574.5 516.0,574.2 517.3,574.0 518.6,573.7 518.6,573.7 517.8,574.7 517.0,575.7 516.2,576.8 515.4,577.8 514.5,578.8 513.5,579.8 512.5,580.9 511.5,582.0 510.4,583.0 509.5,583.9 508.6,584.7 507.9,585.5 507.1,586.2 506.4,587.0 505.6,587.7 504.3,588.6 503.1,589.5 501.8,590.3 500.6,591.2 499.3,592.0 498.0,592.8 496.7,593.5 495.5,594.2 494.2,594.9 492.9,595.6 491.7,596.2 490.5,596.8 489.3,597.4 488.0,598.0 486.5,598.6 484.7,599.3 482.8,600.1 480.7,600.9 478.5,601.7 476.4,602.5 474.3,603.2 472.1,603.9 469.9,604.6 467.7,605.2 465.5,605.8 463.3,606.3 461.1,606.7 458.9,607.1 456.7,607.4 454.5,607.6 452.3,607.7 450.1,607.8 447.9,607.7 445.7,607.6 443.6,607.4 441.5,607.1 439.4,606.6 437.4,606.1 435.5,605.5 433.6,604.9 431.9,604.3 430.2,603.7 428.7,603.1 427.1,602.5 425.5,601.8 423.8,601.1 422.2,600.4 420.5,599.6 418.9,598.9 417.3,598.2 415.8,597.5 414.5,596.9 413.1,596.2 411.8,595.6 410.5,594.9 409.2,594.2 407.9,593.6 406.7,592.9 405.5,592.2 404.2,591.5 402.9,590.7 401.7,589.9 400.4,589.0 399.2,588.1 397.9,587.1 396.6,586.1 395.4,585.0 394.1,583.8 392.9,582.6 391.6,581.4 390.3,580.1 389.1,578.8 387.8,577.4 386.6,575.9 385.3,574.4 384.0,572.8 382.7,571.0 381.4,569.2 380.1,567.4 378.9,565.6 377.8,563.8 376.7,562.0 375.7,560.3 374.8,558.5 373.9,556.7 373.0,554.9 372.2,553.1 371.4,551.3 370.7,549.6 370.1,547.9 369.6,546.3 369.2,544.8 368.9,543.3 368.5,541.8 368.2,540.3" fill="url(#gdf)" />
<polygon points="368.2,518.2 369.0,519.8 369.9,521.3 370.7,522.9 371.6,524.6 372.6,526.4 373.7,528.5 375.0,530.8 376.3,533.2 377.6,535.6 378.9,537.8 380.2,539.9 381.5,542.0 382.7,544.1 384.0,546.0 385.3,547.9 386.6,549.7 387.8,551.5 389.1,553.1 390.3,554.7 391.6,556.1 392.9,557.4 394.1,558.5 395.4,559.6 396.6,560.5 397.9,561.2 399.2,561.8 400.4,562.2 401.7,562.5 402.9,562.7 404.2,562.8 405.5,562.8 406.7,562.7 408.0,562.4 409.2,562.1 410.5,561.6 411.8,560.9 413.2,560.1 414.5,559.2 415.7,558.2 416.8,557.4 417.6,556.8 418.2,556.3 418.7,555.7 419.3,555.1 420.0,554.2 420.9,553.1 421.9,551.7 423.1,550.2 424.2,548.6 425.4,546.7 426.7,544.5 428.0,542.1 429.4,539.6 430.7,537.0 431.9,534.5 433.0,532.2 434.0,529.9 435.0,527.6 435.9,525.3 436.8,523.0 437.6,520.6 438.4,518.3 439.1,515.9 439.8,513.5 440.5,511.0 441.1,508.5 441.8,505.9 442.3,503.2 442.9,500.6 443.5,498.0 444.4,500.2 445.2,502.3 446.0,504.5 447.0,506.7 448.2,509.1 449.7,511.7 451.5,514.5 453.4,517.3 455.4,520.1 457.3,522.7 459.1,525.1 460.9,527.3 462.8,529.5 464.6,531.6 466.4,533.6 468.2,535.6 470.0,537.5 471.9,539.3 473.7,541.0 475.5,542.7 477.3,544.3 479.1,545.8 480.9,547.3 482.7,548.7 484.5,550.0 486.3,551.3 488.0,552.5 489.7,553.6 491.4,554.7 492.9,555.6 494.3,556.4 495.6,557.0 496.8,557.6 498.1,558.1 499.3,558.6 500.6,559.0 501.8,559.5 503.1,559.8 504.3,560.1 505.6,560.3 506.9,560.5 508.1,560.6 509.4,560.6 510.7,560.5 512.0,560.4 513.3,560.1 514.6,559.8 516.0,559.4 517.3,558.9 518.6,558.5 518.6,558.5 517.8,559.8 517.0,561.0 516.2,562.3 515.4,563.6 514.5,564.8 513.6,566.0 512.6,567.2 511.6,568.3 510.5,569.4 509.5,570.5 508.5,571.6 507.5,572.6 506.4,573.6 505.4,574.6 504.4,575.6 503.4,576.3 502.4,577.1 501.4,577.8 500.4,578.5 499.3,579.3 498.1,580.1 496.8,580.9 495.5,581.7 494.2,582.4 492.9,583.2 491.6,583.9 490.3,584.6 489.1,585.3 487.8,586.0 486.5,586.6 485.2,587.2 484.0,587.8 482.7,588.4 481.5,589.0 480.2,589.5 479.0,590.0 477.7,590.5 476.5,590.9 475.2,591.4 473.8,591.8 472.3,592.2 470.7,592.6 469.1,593.1 467.4,593.4 465.5,593.8 463.5,594.2 461.3,594.5 459.0,594.8 456.7,595.1 454.5,595.3 452.3,595.5 450.1,595.6 447.9,595.6 445.7,595.6 443.6,595.5 441.5,595.3 439.4,595.1 437.4,594.8 435.5,594.4 433.6,594.0 431.8,593.5 430.1,592.8 428.5,592.1 426.9,591.4 425.5,590.8 424.3,590.2 423.2,589.7 422.2,589.2 421.2,588.6 420.0,587.9 418.7,587.1 417.2,586.1 415.7,585.2 414.3,584.2 413.0,583.3 411.9,582.5 410.8,581.6 409.8,580.8 408.9,580.1 408.0,579.4 407.2,578.9 406.5,578.4 405.8,578.0 405.1,577.5 404.2,576.9 403.1,576.1 401.9,575.2 400.5,574.2 399.2,573.1 397.9,571.9 396.6,570.7 395.4,569.3 394.1,567.9 392.9,566.4 391.6,564.9 390.3,563.3 389.1,561.6 387.8,559.8 386.6,558.0 385.3,556.1 384.0,554.1 382.7,551.9 381.4,549.7 380.1,547.5 378.9,545.4 377.8,543.3 376.7,541.3 375.7,539.2 374.8,537.2 373.9,535.3 373.0,533.4 372.2,531.6 371.4,529.9 370.7,528.1 370.1,526.4 369.6,524.7 369.2,523.1 368.9,521.4 368.5,519.8 368.2,518.2" fill="url(#gbf)" />
<linearGradient id="grf" gradientUnits="userSpaceOnUse" x1="0" y1="579" x2="0" y2="593"><stop offset="0" stop-color="#5fd0f4" stop-opacity="0.33"/><stop offset="1" stop-color="#5fd0f4" stop-opacity="0"/></linearGradient>
<polygon points="408.0,579.4 409.2,580.0 410.3,580.6 411.5,581.2 412.7,581.8 414.0,582.3 415.5,582.7 417.1,583.1 418.7,583.3 420.4,583.6 422.0,583.7 423.6,583.7 425.2,583.7 426.9,583.6 428.5,583.4 430.0,583.2 431.5,583.0 433.0,582.7 434.4,582.4 435.8,582.1 437.0,581.7 438.1,581.3 439.1,580.9 440.0,580.5 441.0,580.0 441.9,579.6 442.9,580.0 443.8,580.5 444.8,580.9 445.8,581.4 447.0,581.8 448.4,582.2 449.8,582.6 451.4,583.0 453.2,583.3 455.0,583.6 457.0,583.9 459.1,584.1 461.4,584.3 463.7,584.4 466.0,584.5 468.4,584.5 470.8,584.5 473.2,584.5 475.6,584.4 478.0,584.2 480.3,584.0 482.6,583.7 484.9,583.3 487.0,582.9 489.0,582.6 490.7,582.3 492.3,582.0 493.7,581.6 495.1,581.3 496.5,581.0 495.5,581.7 494.2,582.4 492.9,583.2 491.6,583.9 490.3,584.6 489.1,585.3 487.8,586.0 486.5,586.6 485.2,587.2 484.0,587.8 482.7,588.4 481.5,589.0 480.2,589.5 479.0,590.0 477.7,590.5 476.5,590.9 475.2,591.4 473.8,591.8 472.3,592.2 470.7,592.6 469.1,593.1 467.4,593.4 465.5,593.8 463.5,594.2 461.3,594.5 459.0,594.8 456.7,595.1 454.5,595.3 452.3,595.5 450.1,595.6 447.9,595.6 445.7,595.6 443.6,595.5 441.5,595.3 439.4,595.1 437.4,594.8 435.5,594.4 433.6,594.0 431.8,593.5 430.1,592.8 428.5,592.1 426.9,591.4 425.5,590.8 424.3,590.2 423.2,589.7 422.2,589.2 421.2,588.6 420.0,587.9 418.7,587.1 417.2,586.1 415.7,585.2 414.3,584.2 413.0,583.3 411.9,582.5 410.8,581.6 409.8,580.8 408.9,580.1 408.0,579.4" fill="url(#grf)" />
<polyline points="368.2,518.2 368.5,519.1 368.9,520.1 369.2,521.0 369.6,522.0 370.0,523.0 370.4,524.1 370.8,525.2 371.3,526.3 371.8,527.4 372.3,528.4 372.8,529.5 373.3,530.5" fill="none" stroke="#4cc0ea" stroke-width="1.3" stroke-linecap="round"/>
<line x1="482.00" y1="534.80" x2="471.30" y2="548.70" stroke="#222" stroke-width="0.7" />
<text x="469.20" y="531.50" font-size="8.0" text-anchor="start" font-weight="normal" fill="#1a1a1a" ><tspan font-style="italic">z</tspan>=0.65m</text>
<line x1="397.60" y1="549.80" x2="387.00" y2="568.60" stroke="#222" stroke-width="0.7" />
<text x="390.00" y="544.30" font-size="8.0" text-anchor="start" font-weight="normal" fill="#1a1a1a" ><tspan font-style="italic">z</tspan>=0.55m</text>
<line x1="392.00" y1="592.50" x2="384.00" y2="603.50" stroke="#222" stroke-width="0.7" />
<text x="364.20" y="611.40" font-size="8.0" text-anchor="start" font-weight="normal" fill="#1a1a1a" ><tspan font-style="italic">z</tspan>=0.45m</text>
<line x1="348.70" y1="630.40" x2="348.70" y2="501.70" stroke="#888" stroke-width="1.5" />
<line x1="349.00" y1="630.40" x2="443.70" y2="656.00" stroke="#606060" stroke-width="1.0" />
<line x1="443.70" y1="656.00" x2="538.40" y2="630.40" stroke="#606060" stroke-width="1.0" />
<line x1="345.80" y1="630.40" x2="349.00" y2="630.40" stroke="#333" stroke-width="0.9" />
<text x="344.10" y="633.90" font-size="8.9" text-anchor="end" font-weight="normal" fill="#1a1a1a" >0.40</text>
<line x1="345.80" y1="598.23" x2="349.00" y2="598.23" stroke="#333" stroke-width="0.9" />
<text x="344.10" y="601.73" font-size="8.9" text-anchor="end" font-weight="normal" fill="#1a1a1a" >0.50</text>
<line x1="345.80" y1="566.05" x2="349.00" y2="566.05" stroke="#333" stroke-width="0.9" />
<text x="344.10" y="569.55" font-size="8.9" text-anchor="end" font-weight="normal" fill="#1a1a1a" >0.60</text>
<line x1="345.80" y1="533.88" x2="349.00" y2="533.88" stroke="#333" stroke-width="0.9" />
<text x="344.10" y="537.38" font-size="8.9" text-anchor="end" font-weight="normal" fill="#1a1a1a" >0.70</text>
<line x1="345.80" y1="501.70" x2="349.00" y2="501.70" stroke="#333" stroke-width="0.9" />
<text x="344.10" y="505.20" font-size="8.9" text-anchor="end" font-weight="normal" fill="#1a1a1a" >0.80</text>
<line x1="349.00" y1="630.40" x2="349.00" y2="633.00" stroke="#333" stroke-width="0.8" />
<text x="349.30" y="643.60" font-size="8.9" text-anchor="middle" font-weight="normal" fill="#1a1a1a" >−25</text>
<line x1="358.47" y1="632.96" x2="358.47" y2="634.76" stroke="#333" stroke-width="0.8" />
<line x1="367.94" y1="635.52" x2="367.94" y2="638.12" stroke="#333" stroke-width="0.8" />
<text x="368.24" y="648.72" font-size="8.9" text-anchor="middle" font-weight="normal" fill="#1a1a1a" >−15</text>
<line x1="377.41" y1="638.08" x2="377.41" y2="639.88" stroke="#333" stroke-width="0.8" />
<line x1="386.88" y1="640.64" x2="386.88" y2="643.24" stroke="#333" stroke-width="0.8" />
<text x="387.18" y="653.84" font-size="8.9" text-anchor="middle" font-weight="normal" fill="#1a1a1a" >−5</text>
<line x1="396.35" y1="643.20" x2="396.35" y2="645.00" stroke="#333" stroke-width="0.8" />
<line x1="405.82" y1="645.76" x2="405.82" y2="648.36" stroke="#333" stroke-width="0.8" />
<text x="406.12" y="658.96" font-size="8.9" text-anchor="middle" font-weight="normal" fill="#1a1a1a" >5</text>
<line x1="415.29" y1="648.32" x2="415.29" y2="650.12" stroke="#333" stroke-width="0.8" />
<line x1="424.76" y1="650.88" x2="424.76" y2="653.48" stroke="#333" stroke-width="0.8" />
<text x="425.06" y="664.08" font-size="8.9" text-anchor="middle" font-weight="normal" fill="#1a1a1a" >15</text>
<line x1="434.23" y1="653.44" x2="434.23" y2="655.24" stroke="#333" stroke-width="0.8" />
<line x1="443.70" y1="656.00" x2="443.70" y2="658.60" stroke="#333" stroke-width="0.8" />
<text x="444.00" y="669.20" font-size="8.9" text-anchor="middle" font-weight="normal" fill="#1a1a1a" >25</text>
<line x1="443.70" y1="656.00" x2="443.70" y2="658.60" stroke="#333" stroke-width="0.8" />
<line x1="453.17" y1="653.44" x2="453.17" y2="655.24" stroke="#333" stroke-width="0.8" />
<line x1="462.64" y1="650.88" x2="462.64" y2="653.48" stroke="#333" stroke-width="0.8" />
<text x="462.94" y="664.08" font-size="8.9" text-anchor="middle" font-weight="normal" fill="#1a1a1a" >15</text>
<line x1="472.11" y1="648.32" x2="472.11" y2="650.12" stroke="#333" stroke-width="0.8" />
<line x1="481.58" y1="645.76" x2="481.58" y2="648.36" stroke="#333" stroke-width="0.8" />
<text x="481.88" y="658.96" font-size="8.9" text-anchor="middle" font-weight="normal" fill="#1a1a1a" >5</text>
<line x1="491.05" y1="643.20" x2="491.05" y2="645.00" stroke="#333" stroke-width="0.8" />
<line x1="500.52" y1="640.64" x2="500.52" y2="643.24" stroke="#333" stroke-width="0.8" />
<text x="500.82" y="653.84" font-size="8.9" text-anchor="middle" font-weight="normal" fill="#1a1a1a" >−5</text>
<line x1="509.99" y1="638.08" x2="509.99" y2="639.88" stroke="#333" stroke-width="0.8" />
<line x1="519.46" y1="635.52" x2="519.46" y2="638.12" stroke="#333" stroke-width="0.8" />
<text x="519.76" y="648.72" font-size="8.9" text-anchor="middle" font-weight="normal" fill="#1a1a1a" >−15</text>
<line x1="528.93" y1="632.96" x2="528.93" y2="634.76" stroke="#333" stroke-width="0.8" />
<line x1="538.40" y1="630.40" x2="538.40" y2="633.00" stroke="#333" stroke-width="0.8" />
<text x="538.70" y="643.60" font-size="8.9" text-anchor="middle" font-weight="normal" fill="#1a1a1a" >−25</text>
<text x="396.85" y="676.70" font-size="12.5" text-anchor="middle" font-weight="normal" fill="#1a1a1a" ><tspan font-style="italic" font-size="13.5">θ</tspan> / (°)</text>
<text x="504.55" y="673.90" font-size="12.5" text-anchor="middle" font-weight="normal" fill="#1a1a1a" ><tspan font-style="italic" font-size="13.5">ψ</tspan> / (°)</text>
<text transform="translate(320.80 492.30) scale(1.3 1)" font-size="11.2" font-style="italic" fill="#2a2a2a" stroke="none">σ</text>
<text transform="translate(325.40 489.70) scale(1.5 0.85)" font-size="8.5" text-anchor="middle" fill="#2a2a2a" stroke="none">^</text>
<text x="328.10" y="494.80" font-size="5.9" text-anchor="start" font-weight="normal" fill="#1a1a1a" ><tspan font-style="italic">R</tspan>,3</text>
<text x="340.50" y="492.30" font-size="10.6" text-anchor="start" font-weight="normal" fill="#1a1a1a" >/ (°)</text>
<text x="310.80" y="517.40" font-size="8.0" text-anchor="start" font-weight="normal" fill="#1a1a1a" >(×10<tspan font-size="5.4" dy="-3.1">−2</tspan><tspan dy="3.1">)</tspan></text>
<text x="424.50" y="706.70" font-size="12.2" text-anchor="middle" font-weight="normal" fill="#111" >(f)</text>
</g>
</svg>
</body></html>
